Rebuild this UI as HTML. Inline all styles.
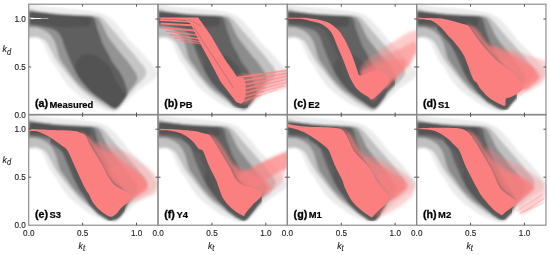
<!DOCTYPE html><html><head><meta charset="utf-8"><style>html,body{margin:0;padding:0;background:#fff;}svg{display:block}text{font-family:"Liberation Sans",Arial,sans-serif}</style></head><body><svg width="550" height="255" viewBox="0 0 550 255"><defs><filter id="bl" x="-5%" y="-5%" width="110%" height="110%"><feGaussianBlur stdDeviation="1.2"/></filter><filter id="bst" x="-5%" y="-5%" width="110%" height="110%"><feGaussianBlur stdDeviation="0.8"/></filter><filter id="bs" x="-5%" y="-5%" width="110%" height="110%"><feGaussianBlur stdDeviation="1.6"/></filter><filter id="bp" x="-5%" y="-5%" width="110%" height="110%"><feGaussianBlur stdDeviation="0.55"/></filter><clipPath id="c0"><rect x="28.70" y="4.20" width="129.30" height="110.80"/></clipPath><clipPath id="c1"><rect x="158.00" y="4.20" width="129.30" height="110.80"/></clipPath><clipPath id="c2"><rect x="287.35" y="4.20" width="129.30" height="110.80"/></clipPath><clipPath id="c3"><rect x="416.65" y="4.20" width="129.30" height="110.80"/></clipPath><clipPath id="c4"><rect x="28.70" y="114.40" width="129.30" height="110.80"/></clipPath><clipPath id="c5"><rect x="158.00" y="114.40" width="129.30" height="110.80"/></clipPath><clipPath id="c6"><rect x="287.35" y="114.40" width="129.30" height="110.80"/></clipPath><clipPath id="c7"><rect x="416.65" y="114.40" width="129.30" height="110.80"/></clipPath></defs><g clip-path="url(#c0)"><g transform="translate(28.30 4.00)"><g filter="url(#bl)"><path fill="#ededed" d="M-2.0 2.0C1.7 -3.0 12.2 2.5 20.0 3.0C27.8 3.5 38.0 4.3 45.0 5.0C52.0 5.7 57.8 6.4 62.0 7.0C66.2 7.6 67.5 7.8 70.0 8.5C72.5 9.2 74.8 9.9 77.0 11.0C79.2 12.1 81.0 13.3 83.0 15.0C85.0 16.7 87.0 18.8 89.0 21.0C91.0 23.2 93.0 25.5 95.0 28.0C97.0 30.5 98.8 33.5 101.0 36.0C103.2 38.5 105.8 40.8 108.0 43.0C110.2 45.2 112.0 46.8 114.0 49.0C116.0 51.2 118.2 53.8 120.0 56.0C121.8 58.2 123.7 60.3 125.0 62.0C126.3 63.7 127.2 64.7 128.0 66.0C128.8 67.3 130.0 68.3 129.5 70.0C129.0 71.7 127.2 74.0 125.0 76.0C122.8 78.0 118.8 80.0 116.0 82.0C113.2 84.0 110.7 85.7 108.0 88.0C105.3 90.3 102.5 93.5 100.0 96.0C97.5 98.5 94.8 101.2 93.0 103.0C91.2 104.8 91.2 106.3 89.0 107.0C86.8 107.7 84.0 108.0 80.0 107.0C76.0 106.0 69.7 103.5 65.0 101.0C60.3 98.5 55.8 94.8 52.0 92.0C48.2 89.2 45.0 87.0 42.0 84.0C39.0 81.0 36.3 77.3 34.0 74.0C31.7 70.7 30.0 67.1 28.0 64.0C26.0 60.9 23.8 58.8 22.0 55.6C20.2 52.4 18.5 48.1 17.0 45.0C15.5 41.9 14.8 38.8 13.0 37.0C11.2 35.2 8.5 34.7 6.0 34.0C3.5 33.3 -0.7 38.3 -2.0 33.0C-3.3 27.7 -5.7 7.0 -2.0 2.0Z"/><path fill="#c5c5c5" d="M-2.0 6.5C0.0 2.6 6.0 6.8 10.0 7.3C14.0 7.8 17.7 8.8 22.0 9.2C26.3 9.6 31.2 9.7 36.0 10.0C40.8 10.3 47.3 10.6 51.0 10.8C54.7 11.0 55.5 11.1 58.0 11.2C60.5 11.3 63.8 11.4 66.0 11.6C68.2 11.8 69.3 11.8 71.0 12.5C72.7 13.2 74.2 14.2 76.0 16.0C77.8 17.8 80.0 20.7 82.0 23.0C84.0 25.3 85.8 27.5 88.0 30.0C90.2 32.5 92.7 35.3 95.0 38.0C97.3 40.7 99.8 43.5 102.0 46.0C104.2 48.5 106.5 51.2 108.0 53.0C109.5 54.8 109.7 55.3 111.0 57.0C112.3 58.7 114.8 61.2 116.0 63.0C117.2 64.8 117.8 66.5 118.0 68.0C118.2 69.5 117.8 70.5 117.0 72.0C116.2 73.5 114.5 75.3 113.0 77.0C111.5 78.7 109.8 80.0 108.0 82.0C106.2 84.0 104.0 86.7 102.0 89.0C100.0 91.3 97.8 93.8 96.0 96.0C94.2 98.2 92.3 100.4 91.0 102.0C89.7 103.6 89.2 104.8 88.0 105.5C86.8 106.2 86.7 106.9 84.0 106.0C81.3 105.1 75.7 102.2 72.0 100.0C68.3 97.8 65.3 95.5 62.0 93.0C58.7 90.5 55.2 88.0 52.0 85.0C48.8 82.0 45.8 78.3 43.0 75.0C40.2 71.7 37.5 68.2 35.0 65.0C32.5 61.8 30.2 59.3 28.0 56.0C25.8 52.7 23.8 48.2 22.0 45.0C20.2 41.8 19.2 39.0 17.0 37.0C14.8 35.0 12.2 34.0 9.0 33.0C5.8 32.0 -0.2 35.4 -2.0 31.0C-3.8 26.6 -4.0 10.4 -2.0 6.5Z"/><path fill="#939393" d="M-2.0 8.0C0.0 5.8 6.0 8.2 10.0 8.6C14.0 9.0 17.7 10.1 22.0 10.5C26.3 10.9 31.2 10.9 36.0 11.2C40.8 11.4 47.0 11.8 51.0 12.0C55.0 12.2 57.2 12.2 60.0 12.4C62.8 12.6 66.0 12.2 68.0 13.0C70.0 13.8 70.7 15.0 72.0 17.0C73.3 19.0 74.7 22.3 76.0 25.0C77.3 27.7 78.3 30.3 80.0 33.0C81.7 35.7 83.8 38.2 86.0 41.0C88.2 43.8 90.8 47.3 93.0 50.0C95.2 52.7 97.2 54.7 99.0 57.0C100.8 59.3 102.5 61.8 104.0 64.0C105.5 66.2 107.2 68.2 108.0 70.0C108.8 71.8 109.2 73.4 109.0 75.0C108.8 76.6 108.3 77.4 107.0 79.5C105.7 81.6 102.6 85.3 101.0 87.4C99.4 89.5 98.7 90.5 97.2 92.3C95.7 94.1 93.5 96.3 92.0 98.0C90.5 99.7 89.2 101.4 88.4 102.5C87.6 103.6 89.4 105.2 87.0 104.5C84.6 103.8 77.7 100.1 74.0 98.0C70.3 95.9 68.0 94.1 65.0 92.0C62.0 89.9 59.3 88.5 56.0 85.5C52.7 82.5 48.0 77.6 45.0 74.0C42.0 70.4 40.2 67.1 38.0 64.0C35.8 60.9 33.5 58.6 32.0 55.6C30.5 52.6 30.0 49.1 29.0 46.0C28.0 42.9 27.5 39.8 26.0 37.0C24.5 34.2 22.7 31.2 20.0 29.0C17.3 26.8 13.7 25.2 10.0 24.0C6.3 22.8 0.0 24.7 -2.0 22.0C-4.0 19.3 -4.0 10.2 -2.0 8.0Z"/><path fill="#5f5f5f" d="M1.0 9.0C1.2 7.1 0.5 7.7 2.0 7.5C3.5 7.3 5.3 7.4 10.0 7.8C14.7 8.2 23.3 9.4 30.0 10.0C36.7 10.6 44.7 10.9 50.0 11.2C55.3 11.5 59.5 11.5 62.0 11.8C64.5 12.1 64.2 12.1 65.0 13.0C65.8 13.9 66.3 15.0 67.0 17.0C67.7 19.0 68.2 22.3 69.0 25.0C69.8 27.7 71.0 30.3 72.0 33.0C73.0 35.7 73.7 38.2 75.0 41.0C76.3 43.8 78.5 47.2 80.0 50.0C81.5 52.8 82.3 55.3 84.0 58.0C85.7 60.7 88.2 63.2 90.0 66.0C91.8 68.8 93.6 71.8 95.0 75.0C96.4 78.2 97.8 82.3 98.5 85.0C99.2 87.7 99.4 89.2 99.0 91.0C98.6 92.8 97.5 93.9 96.0 96.0C94.5 98.1 92.0 102.2 90.0 103.5C88.0 104.8 86.7 105.2 84.0 104.0C81.3 102.8 76.8 98.6 74.0 96.5C71.2 94.4 69.3 93.3 67.0 91.5C64.7 89.7 62.7 88.3 60.0 85.5C57.3 82.7 53.5 78.2 51.0 74.5C48.5 70.8 46.8 67.3 45.0 63.6C43.2 59.9 41.5 55.6 40.0 52.0C38.5 48.4 37.2 45.2 36.0 42.0C34.8 38.8 34.3 35.5 33.0 33.0C31.7 30.5 30.2 28.5 28.0 27.0C25.8 25.5 23.0 24.8 20.0 24.0C17.0 23.2 13.0 22.5 10.0 22.0C7.0 21.5 3.5 21.5 2.0 21.0C0.5 20.5 1.2 21.0 1.0 19.0C0.8 17.0 0.8 10.9 1.0 9.0Z"/><path fill="#525252" d="M1.6 10.0C1.7 8.7 2.0 8.7 2.4 8.3C2.8 7.9 2.9 7.8 4.0 7.8C5.1 7.8 6.0 8.1 9.0 8.6C12.0 9.1 17.5 10.4 22.0 10.9C26.5 11.4 31.2 11.4 36.0 11.6C40.8 11.8 47.3 12.2 51.0 12.3C54.7 12.5 56.3 12.2 58.0 12.5C59.7 12.8 60.3 13.1 61.0 14.0C61.7 14.9 62.0 16.8 62.0 18.0C62.0 19.2 62.2 20.8 61.0 21.5C59.8 22.2 57.7 22.2 55.0 22.5C52.3 22.8 48.2 22.8 45.0 23.0C41.8 23.2 38.7 23.6 36.0 23.5C33.3 23.4 31.4 22.9 29.0 22.5C26.6 22.1 24.2 21.5 21.8 21.0C19.4 20.5 17.5 19.9 14.5 19.6C11.5 19.4 6.1 19.7 4.0 19.5C1.9 19.3 2.4 19.1 2.0 18.5C1.6 17.9 1.7 17.4 1.6 16.0C1.5 14.6 1.5 11.3 1.6 10.0Z"/><path fill="#525252" d="M60.0 50.0C62.5 50.0 65.3 50.7 68.0 52.0C70.7 53.3 73.7 56.0 76.0 58.0C78.3 60.0 80.3 61.3 82.0 64.0C83.7 66.7 84.2 70.5 86.0 74.0C87.8 77.5 91.2 82.2 93.0 85.0C94.8 87.8 96.5 89.2 97.0 91.0C97.5 92.8 97.2 94.0 96.0 96.0C94.8 98.0 91.2 101.7 90.0 103.0C88.8 104.3 89.5 103.7 88.5 103.8C87.5 103.9 86.4 104.8 84.0 103.5C81.6 102.2 76.7 98.1 74.0 96.0C71.3 93.9 70.1 92.8 68.0 91.0C65.9 89.2 64.2 88.2 61.5 85.5C58.8 82.8 54.4 77.9 52.0 74.5C49.6 71.1 47.7 67.8 47.0 65.0C46.3 62.2 47.0 60.2 48.0 58.0C49.0 55.8 51.0 53.3 53.0 52.0C55.0 50.7 57.5 50.0 60.0 50.0Z"/></g><g filter="url(#bp)"></g><path fill="#fff" d="M0.0 13.7C1.3 13.5 4.5 13.8 8.0 13.9C11.5 14.0 21.0 14.2 21.0 14.4C21.0 14.6 11.5 14.8 8.0 14.9C4.5 15.0 1.3 15.3 0.0 15.1C-1.3 14.9 -1.3 13.9 0.0 13.7Z"/></g></g><g clip-path="url(#c1)"><g transform="translate(157.65 4.00)"><g filter="url(#bl)"><path fill="#ebebeb" d="M-2.0 2.0C1.7 -3.0 12.2 2.5 20.0 3.0C27.8 3.5 38.0 4.3 45.0 5.0C52.0 5.7 57.8 6.4 62.0 7.0C66.2 7.6 67.5 7.8 70.0 8.5C72.5 9.2 74.8 9.9 77.0 11.0C79.2 12.1 81.0 13.3 83.0 15.0C85.0 16.7 87.0 18.8 89.0 21.0C91.0 23.2 93.0 25.5 95.0 28.0C97.0 30.5 98.8 33.5 101.0 36.0C103.2 38.5 105.8 40.8 108.0 43.0C110.2 45.2 112.0 46.8 114.0 49.0C116.0 51.2 118.2 53.8 120.0 56.0C121.8 58.2 123.7 60.3 125.0 62.0C126.3 63.7 127.2 64.7 128.0 66.0C128.8 67.3 130.0 68.3 129.5 70.0C129.0 71.7 127.2 74.0 125.0 76.0C122.8 78.0 118.8 80.0 116.0 82.0C113.2 84.0 110.7 85.7 108.0 88.0C105.3 90.3 102.5 93.5 100.0 96.0C97.5 98.5 94.8 101.2 93.0 103.0C91.2 104.8 91.2 106.3 89.0 107.0C86.8 107.7 84.0 108.0 80.0 107.0C76.0 106.0 69.7 103.5 65.0 101.0C60.3 98.5 55.8 94.8 52.0 92.0C48.2 89.2 45.0 87.0 42.0 84.0C39.0 81.0 36.3 77.3 34.0 74.0C31.7 70.7 30.0 67.1 28.0 64.0C26.0 60.9 23.8 58.8 22.0 55.6C20.2 52.4 18.5 48.1 17.0 45.0C15.5 41.9 14.8 38.8 13.0 37.0C11.2 35.2 8.5 34.7 6.0 34.0C3.5 33.3 -0.7 38.3 -2.0 33.0C-3.3 27.7 -5.7 7.0 -2.0 2.0Z"/><path fill="#c0c0c0" d="M-2.0 6.5C0.0 2.6 6.0 6.8 10.0 7.3C14.0 7.8 17.7 8.8 22.0 9.2C26.3 9.6 31.2 9.7 36.0 10.0C40.8 10.3 47.3 10.6 51.0 10.8C54.7 11.0 55.5 11.1 58.0 11.2C60.5 11.3 63.8 11.4 66.0 11.6C68.2 11.8 69.3 11.8 71.0 12.5C72.7 13.2 74.2 14.2 76.0 16.0C77.8 17.8 80.0 20.7 82.0 23.0C84.0 25.3 85.8 27.5 88.0 30.0C90.2 32.5 92.7 35.3 95.0 38.0C97.3 40.7 99.8 43.5 102.0 46.0C104.2 48.5 106.5 51.2 108.0 53.0C109.5 54.8 109.7 55.3 111.0 57.0C112.3 58.7 114.8 61.2 116.0 63.0C117.2 64.8 117.8 66.5 118.0 68.0C118.2 69.5 117.8 70.5 117.0 72.0C116.2 73.5 114.5 75.3 113.0 77.0C111.5 78.7 109.8 80.0 108.0 82.0C106.2 84.0 104.0 86.7 102.0 89.0C100.0 91.3 97.8 93.8 96.0 96.0C94.2 98.2 92.3 100.4 91.0 102.0C89.7 103.6 89.2 104.8 88.0 105.5C86.8 106.2 86.7 106.9 84.0 106.0C81.3 105.1 75.7 102.2 72.0 100.0C68.3 97.8 65.3 95.5 62.0 93.0C58.7 90.5 55.2 88.0 52.0 85.0C48.8 82.0 45.8 78.3 43.0 75.0C40.2 71.7 37.5 68.2 35.0 65.0C32.5 61.8 30.2 59.3 28.0 56.0C25.8 52.7 23.8 48.2 22.0 45.0C20.2 41.8 19.2 39.0 17.0 37.0C14.8 35.0 12.2 34.0 9.0 33.0C5.8 32.0 -0.2 35.4 -2.0 31.0C-3.8 26.6 -4.0 10.4 -2.0 6.5Z"/><path fill="#8c8c8c" d="M-2.0 8.0C0.0 5.8 6.0 8.2 10.0 8.6C14.0 9.0 17.7 10.1 22.0 10.5C26.3 10.9 31.2 10.9 36.0 11.2C40.8 11.4 47.0 11.8 51.0 12.0C55.0 12.2 57.2 12.2 60.0 12.4C62.8 12.6 66.0 12.2 68.0 13.0C70.0 13.8 70.7 15.0 72.0 17.0C73.3 19.0 74.7 22.3 76.0 25.0C77.3 27.7 78.3 30.3 80.0 33.0C81.7 35.7 83.8 38.2 86.0 41.0C88.2 43.8 90.8 47.3 93.0 50.0C95.2 52.7 97.2 54.7 99.0 57.0C100.8 59.3 102.5 61.8 104.0 64.0C105.5 66.2 107.2 68.2 108.0 70.0C108.8 71.8 109.2 73.4 109.0 75.0C108.8 76.6 108.3 77.4 107.0 79.5C105.7 81.6 102.6 85.3 101.0 87.4C99.4 89.5 98.7 90.5 97.2 92.3C95.7 94.1 93.5 96.3 92.0 98.0C90.5 99.7 89.2 101.4 88.4 102.5C87.6 103.6 89.4 105.2 87.0 104.5C84.6 103.8 77.7 100.1 74.0 98.0C70.3 95.9 68.0 94.1 65.0 92.0C62.0 89.9 59.3 88.5 56.0 85.5C52.7 82.5 48.0 77.6 45.0 74.0C42.0 70.4 40.2 67.1 38.0 64.0C35.8 60.9 33.5 58.6 32.0 55.6C30.5 52.6 30.0 49.1 29.0 46.0C28.0 42.9 27.5 39.8 26.0 37.0C24.5 34.2 22.7 31.2 20.0 29.0C17.3 26.8 13.7 25.2 10.0 24.0C6.3 22.8 0.0 24.7 -2.0 22.0C-4.0 19.3 -4.0 10.2 -2.0 8.0Z"/><path fill="#626262" d="M1.0 9.0C1.2 7.1 0.5 7.7 2.0 7.5C3.5 7.3 5.3 7.4 10.0 7.8C14.7 8.2 23.3 9.4 30.0 10.0C36.7 10.6 44.7 10.9 50.0 11.2C55.3 11.5 59.5 11.5 62.0 11.8C64.5 12.1 64.2 12.1 65.0 13.0C65.8 13.9 66.3 15.0 67.0 17.0C67.7 19.0 68.2 22.3 69.0 25.0C69.8 27.7 71.0 30.3 72.0 33.0C73.0 35.7 73.7 38.2 75.0 41.0C76.3 43.8 78.5 47.2 80.0 50.0C81.5 52.8 82.3 55.3 84.0 58.0C85.7 60.7 88.2 63.2 90.0 66.0C91.8 68.8 93.6 71.8 95.0 75.0C96.4 78.2 97.8 82.3 98.5 85.0C99.2 87.7 99.4 89.2 99.0 91.0C98.6 92.8 97.5 93.9 96.0 96.0C94.5 98.1 92.0 102.2 90.0 103.5C88.0 104.8 86.7 105.2 84.0 104.0C81.3 102.8 76.8 98.6 74.0 96.5C71.2 94.4 69.3 93.3 67.0 91.5C64.7 89.7 62.7 88.3 60.0 85.5C57.3 82.7 53.5 78.2 51.0 74.5C48.5 70.8 46.8 67.3 45.0 63.6C43.2 59.9 41.5 55.6 40.0 52.0C38.5 48.4 37.2 45.2 36.0 42.0C34.8 38.8 34.3 35.5 33.0 33.0C31.7 30.5 30.2 28.5 28.0 27.0C25.8 25.5 23.0 24.8 20.0 24.0C17.0 23.2 13.0 22.5 10.0 22.0C7.0 21.5 3.5 21.5 2.0 21.0C0.5 20.5 1.2 21.0 1.0 19.0C0.8 17.0 0.8 10.9 1.0 9.0Z"/><path fill="#525252" d="M1.6 10.0C1.7 8.7 2.0 8.7 2.4 8.3C2.8 7.9 2.9 7.8 4.0 7.8C5.1 7.8 6.0 8.1 9.0 8.6C12.0 9.1 17.5 10.4 22.0 10.9C26.5 11.4 31.2 11.4 36.0 11.6C40.8 11.8 47.3 12.2 51.0 12.3C54.7 12.5 56.3 12.2 58.0 12.5C59.7 12.8 60.3 13.1 61.0 14.0C61.7 14.9 62.0 16.8 62.0 18.0C62.0 19.2 62.2 20.8 61.0 21.5C59.8 22.2 57.7 22.2 55.0 22.5C52.3 22.8 48.2 22.8 45.0 23.0C41.8 23.2 38.7 23.6 36.0 23.5C33.3 23.4 31.4 22.9 29.0 22.5C26.6 22.1 24.2 21.5 21.8 21.0C19.4 20.5 17.5 19.9 14.5 19.6C11.5 19.4 6.1 19.7 4.0 19.5C1.9 19.3 2.4 19.1 2.0 18.5C1.6 17.9 1.7 17.4 1.6 16.0C1.5 14.6 1.5 11.3 1.6 10.0Z"/><path fill="#565656" d="M60.0 50.0C62.5 50.0 65.3 50.7 68.0 52.0C70.7 53.3 73.7 56.0 76.0 58.0C78.3 60.0 80.3 61.3 82.0 64.0C83.7 66.7 84.2 70.5 86.0 74.0C87.8 77.5 91.2 82.2 93.0 85.0C94.8 87.8 96.5 89.2 97.0 91.0C97.5 92.8 97.2 94.0 96.0 96.0C94.8 98.0 91.2 101.7 90.0 103.0C88.8 104.3 89.5 103.7 88.5 103.8C87.5 103.9 86.4 104.8 84.0 103.5C81.6 102.2 76.7 98.1 74.0 96.0C71.3 93.9 70.1 92.8 68.0 91.0C65.9 89.2 64.2 88.2 61.5 85.5C58.8 82.8 54.4 77.9 52.0 74.5C49.6 71.1 47.7 67.8 47.0 65.0C46.3 62.2 47.0 60.2 48.0 58.0C49.0 55.8 51.0 53.3 53.0 52.0C55.0 50.7 57.5 50.0 60.0 50.0Z"/></g><g filter="url(#bst)"><path fill="none" stroke="#595959" stroke-width="9.0" stroke-linejoin="round" stroke-linecap="round" d="M41.0 39.0 51.7 56.3 57.4 67.0 62.8 77.6 78.6 98.0 84.0 100.5 88.0 99.0"/></g><g filter="url(#bs)"><path fill="rgb(252, 127, 127)" fill-opacity="0.45" d="M79.3 72.8C82.9 67.8 99.0 71.0 107.4 69.8C115.8 68.6 125.6 66.2 129.5 65.5C133.4 64.8 130.8 62.8 131.0 65.5C131.2 68.2 134.9 78.2 131.0 82.0C127.1 85.8 115.0 85.6 107.4 88.5C99.8 91.4 90.3 102.1 85.6 99.5C80.9 96.9 75.7 77.8 79.3 72.8Z"/></g><g filter="url(#bp)"><path fill="rgb(252, 127, 127)" d="M-2.0 13.5 40.5 13.5 53.9 32.6 61.5 46.0 68.3 57.0 75.2 66.6 79.3 72.8 86.0 74.0 88.0 80.0 88.0 92.0 85.6 98.5 83.0 99.8 78.6 98.0 62.8 77.6 57.4 67.0 51.7 56.3 45.0 44.0 38.0 30.0 33.0 20.0 28.0 16.0 -2.0 15.2Z"/><path stroke="rgb(252, 127, 127)" stroke-opacity="1.00" stroke-width="1.8" d="M2.0 16.2L36.0 17.8"/><path stroke="rgb(252, 127, 127)" stroke-opacity="0.95" stroke-width="1.8" d="M3.0 19.5L38.0 21.5"/><path stroke="rgb(252, 127, 127)" stroke-opacity="0.90" stroke-width="1.8" d="M4.0 23.5L41.0 27.0"/><path stroke="rgb(252, 127, 127)" stroke-opacity="0.85" stroke-width="1.7" d="M8.0 27.0L43.0 31.5"/><path stroke="rgb(252, 127, 127)" stroke-opacity="0.80" stroke-width="1.7" d="M12.0 30.5L45.0 35.5"/><path stroke="rgb(252, 127, 127)" stroke-opacity="0.70" stroke-width="1.6" d="M17.0 33.5L47.0 38.5"/><path stroke="rgb(252, 127, 127)" stroke-opacity="0.60" stroke-width="1.5" d="M22.0 36.5L48.0 40.5"/><path stroke="rgb(252, 127, 127)" stroke-opacity="0.95" stroke-width="1.7" d="M80.0 73.5L104.8 69.9"/><path stroke="rgb(252, 127, 127)" stroke-opacity="0.60" stroke-width="1.5" d="M104.8 69.9L129.5 66.3"/><path stroke="rgb(252, 127, 127)" stroke-opacity="0.91" stroke-width="1.7" d="M84.0 77.0L106.8 73.2"/><path stroke="rgb(252, 127, 127)" stroke-opacity="0.56" stroke-width="1.5" d="M106.8 73.2L129.5 69.3"/><path stroke="rgb(252, 127, 127)" stroke-opacity="0.87" stroke-width="1.7" d="M86.0 81.0L107.8 76.7"/><path stroke="rgb(252, 127, 127)" stroke-opacity="0.52" stroke-width="1.5" d="M107.8 76.7L129.5 72.3"/><path stroke="rgb(252, 127, 127)" stroke-opacity="0.83" stroke-width="1.7" d="M86.0 85.0L107.8 80.2"/><path stroke="rgb(252, 127, 127)" stroke-opacity="0.48" stroke-width="1.5" d="M107.8 80.2L129.5 75.3"/><path stroke="rgb(252, 127, 127)" stroke-opacity="0.79" stroke-width="1.7" d="M86.0 89.0L107.8 83.7"/><path stroke="rgb(252, 127, 127)" stroke-opacity="0.44" stroke-width="1.5" d="M107.8 83.7L129.5 78.3"/><path stroke="rgb(252, 127, 127)" stroke-opacity="0.75" stroke-width="1.7" d="M86.0 93.0L106.5 87.2"/><path stroke="rgb(252, 127, 127)" stroke-opacity="0.40" stroke-width="1.5" d="M106.5 87.2L127.0 81.5"/><path stroke="rgb(252, 127, 127)" stroke-opacity="0.71" stroke-width="1.7" d="M86.0 97.0L103.0 91.2"/><path stroke="rgb(252, 127, 127)" stroke-opacity="0.36" stroke-width="1.5" d="M103.0 91.2L120.0 85.5"/><path stroke="#4b4b4b" stroke-opacity="0.40" stroke-width="0.8" d="M36.0 23.0L76.0 84.0"/><path stroke="#4b4b4b" stroke-opacity="0.30" stroke-width="0.7" d="M30.0 15.5L44.0 22.0"/></g></g></g><g clip-path="url(#c2)"><g transform="translate(287.00 4.00)"><g filter="url(#bl)"><path fill="#ebebeb" d="M-2.0 2.0C1.7 -3.0 12.2 2.5 20.0 3.0C27.8 3.5 38.0 4.3 45.0 5.0C52.0 5.7 57.8 6.4 62.0 7.0C66.2 7.6 67.5 7.8 70.0 8.5C72.5 9.2 74.8 9.9 77.0 11.0C79.2 12.1 81.0 13.3 83.0 15.0C85.0 16.7 87.0 18.8 89.0 21.0C91.0 23.2 93.0 25.5 95.0 28.0C97.0 30.5 98.8 33.5 101.0 36.0C103.2 38.5 105.8 40.8 108.0 43.0C110.2 45.2 112.0 46.8 114.0 49.0C116.0 51.2 118.2 53.8 120.0 56.0C121.8 58.2 123.7 60.3 125.0 62.0C126.3 63.7 127.2 64.7 128.0 66.0C128.8 67.3 130.0 68.3 129.5 70.0C129.0 71.7 127.2 74.0 125.0 76.0C122.8 78.0 118.8 80.0 116.0 82.0C113.2 84.0 110.7 85.7 108.0 88.0C105.3 90.3 102.5 93.5 100.0 96.0C97.5 98.5 94.8 101.2 93.0 103.0C91.2 104.8 91.2 106.3 89.0 107.0C86.8 107.7 84.0 108.0 80.0 107.0C76.0 106.0 69.7 103.5 65.0 101.0C60.3 98.5 55.8 94.8 52.0 92.0C48.2 89.2 45.0 87.0 42.0 84.0C39.0 81.0 36.3 77.3 34.0 74.0C31.7 70.7 30.0 67.1 28.0 64.0C26.0 60.9 23.8 58.8 22.0 55.6C20.2 52.4 18.5 48.1 17.0 45.0C15.5 41.9 14.8 38.8 13.0 37.0C11.2 35.2 8.5 34.7 6.0 34.0C3.5 33.3 -0.7 38.3 -2.0 33.0C-3.3 27.7 -5.7 7.0 -2.0 2.0Z"/><path fill="#c0c0c0" d="M-2.0 6.5C0.0 2.6 6.0 6.8 10.0 7.3C14.0 7.8 17.7 8.8 22.0 9.2C26.3 9.6 31.2 9.7 36.0 10.0C40.8 10.3 47.3 10.6 51.0 10.8C54.7 11.0 55.5 11.1 58.0 11.2C60.5 11.3 63.8 11.4 66.0 11.6C68.2 11.8 69.3 11.8 71.0 12.5C72.7 13.2 74.2 14.2 76.0 16.0C77.8 17.8 80.0 20.7 82.0 23.0C84.0 25.3 85.8 27.5 88.0 30.0C90.2 32.5 92.7 35.3 95.0 38.0C97.3 40.7 99.8 43.5 102.0 46.0C104.2 48.5 106.5 51.2 108.0 53.0C109.5 54.8 109.7 55.3 111.0 57.0C112.3 58.7 114.8 61.2 116.0 63.0C117.2 64.8 117.8 66.5 118.0 68.0C118.2 69.5 117.8 70.5 117.0 72.0C116.2 73.5 114.5 75.3 113.0 77.0C111.5 78.7 109.8 80.0 108.0 82.0C106.2 84.0 104.0 86.7 102.0 89.0C100.0 91.3 97.8 93.8 96.0 96.0C94.2 98.2 92.3 100.4 91.0 102.0C89.7 103.6 89.2 104.8 88.0 105.5C86.8 106.2 86.7 106.9 84.0 106.0C81.3 105.1 75.7 102.2 72.0 100.0C68.3 97.8 65.3 95.5 62.0 93.0C58.7 90.5 55.2 88.0 52.0 85.0C48.8 82.0 45.8 78.3 43.0 75.0C40.2 71.7 37.5 68.2 35.0 65.0C32.5 61.8 30.2 59.3 28.0 56.0C25.8 52.7 23.8 48.2 22.0 45.0C20.2 41.8 19.2 39.0 17.0 37.0C14.8 35.0 12.2 34.0 9.0 33.0C5.8 32.0 -0.2 35.4 -2.0 31.0C-3.8 26.6 -4.0 10.4 -2.0 6.5Z"/><path fill="#8c8c8c" d="M-2.0 8.0C0.0 5.8 6.0 8.2 10.0 8.6C14.0 9.0 17.7 10.1 22.0 10.5C26.3 10.9 31.2 10.9 36.0 11.2C40.8 11.4 47.0 11.8 51.0 12.0C55.0 12.2 57.2 12.2 60.0 12.4C62.8 12.6 66.0 12.2 68.0 13.0C70.0 13.8 70.7 15.0 72.0 17.0C73.3 19.0 74.7 22.3 76.0 25.0C77.3 27.7 78.3 30.3 80.0 33.0C81.7 35.7 83.8 38.2 86.0 41.0C88.2 43.8 90.8 47.3 93.0 50.0C95.2 52.7 97.2 54.7 99.0 57.0C100.8 59.3 102.5 61.8 104.0 64.0C105.5 66.2 107.2 68.2 108.0 70.0C108.8 71.8 109.2 73.4 109.0 75.0C108.8 76.6 108.3 77.4 107.0 79.5C105.7 81.6 102.6 85.3 101.0 87.4C99.4 89.5 98.7 90.5 97.2 92.3C95.7 94.1 93.5 96.3 92.0 98.0C90.5 99.7 89.2 101.4 88.4 102.5C87.6 103.6 89.4 105.2 87.0 104.5C84.6 103.8 77.7 100.1 74.0 98.0C70.3 95.9 68.0 94.1 65.0 92.0C62.0 89.9 59.3 88.5 56.0 85.5C52.7 82.5 48.0 77.6 45.0 74.0C42.0 70.4 40.2 67.1 38.0 64.0C35.8 60.9 33.5 58.6 32.0 55.6C30.5 52.6 30.0 49.1 29.0 46.0C28.0 42.9 27.5 39.8 26.0 37.0C24.5 34.2 22.7 31.2 20.0 29.0C17.3 26.8 13.7 25.2 10.0 24.0C6.3 22.8 0.0 24.7 -2.0 22.0C-4.0 19.3 -4.0 10.2 -2.0 8.0Z"/><path fill="#626262" d="M1.0 9.0C1.2 7.1 0.5 7.7 2.0 7.5C3.5 7.3 5.3 7.4 10.0 7.8C14.7 8.2 23.3 9.4 30.0 10.0C36.7 10.6 44.7 10.9 50.0 11.2C55.3 11.5 59.5 11.5 62.0 11.8C64.5 12.1 64.2 12.1 65.0 13.0C65.8 13.9 66.3 15.0 67.0 17.0C67.7 19.0 68.2 22.3 69.0 25.0C69.8 27.7 71.0 30.3 72.0 33.0C73.0 35.7 73.7 38.2 75.0 41.0C76.3 43.8 78.5 47.2 80.0 50.0C81.5 52.8 82.3 55.3 84.0 58.0C85.7 60.7 88.2 63.2 90.0 66.0C91.8 68.8 93.6 71.8 95.0 75.0C96.4 78.2 97.8 82.3 98.5 85.0C99.2 87.7 99.4 89.2 99.0 91.0C98.6 92.8 97.5 93.9 96.0 96.0C94.5 98.1 92.0 102.2 90.0 103.5C88.0 104.8 86.7 105.2 84.0 104.0C81.3 102.8 76.8 98.6 74.0 96.5C71.2 94.4 69.3 93.3 67.0 91.5C64.7 89.7 62.7 88.3 60.0 85.5C57.3 82.7 53.5 78.2 51.0 74.5C48.5 70.8 46.8 67.3 45.0 63.6C43.2 59.9 41.5 55.6 40.0 52.0C38.5 48.4 37.2 45.2 36.0 42.0C34.8 38.8 34.3 35.5 33.0 33.0C31.7 30.5 30.2 28.5 28.0 27.0C25.8 25.5 23.0 24.8 20.0 24.0C17.0 23.2 13.0 22.5 10.0 22.0C7.0 21.5 3.5 21.5 2.0 21.0C0.5 20.5 1.2 21.0 1.0 19.0C0.8 17.0 0.8 10.9 1.0 9.0Z"/><path fill="#525252" d="M1.6 10.0C1.7 8.7 2.0 8.7 2.4 8.3C2.8 7.9 2.9 7.8 4.0 7.8C5.1 7.8 6.0 8.1 9.0 8.6C12.0 9.1 17.5 10.4 22.0 10.9C26.5 11.4 31.2 11.4 36.0 11.6C40.8 11.8 47.3 12.2 51.0 12.3C54.7 12.5 56.3 12.2 58.0 12.5C59.7 12.8 60.3 13.1 61.0 14.0C61.7 14.9 62.0 16.8 62.0 18.0C62.0 19.2 62.2 20.8 61.0 21.5C59.8 22.2 57.7 22.2 55.0 22.5C52.3 22.8 48.2 22.8 45.0 23.0C41.8 23.2 38.7 23.6 36.0 23.5C33.3 23.4 31.4 22.9 29.0 22.5C26.6 22.1 24.2 21.5 21.8 21.0C19.4 20.5 17.5 19.9 14.5 19.6C11.5 19.4 6.1 19.7 4.0 19.5C1.9 19.3 2.4 19.1 2.0 18.5C1.6 17.9 1.7 17.4 1.6 16.0C1.5 14.6 1.5 11.3 1.6 10.0Z"/><path fill="#565656" d="M60.0 50.0C62.5 50.0 65.3 50.7 68.0 52.0C70.7 53.3 73.7 56.0 76.0 58.0C78.3 60.0 80.3 61.3 82.0 64.0C83.7 66.7 84.2 70.5 86.0 74.0C87.8 77.5 91.2 82.2 93.0 85.0C94.8 87.8 96.5 89.2 97.0 91.0C97.5 92.8 97.2 94.0 96.0 96.0C94.8 98.0 91.2 101.7 90.0 103.0C88.8 104.3 89.5 103.7 88.5 103.8C87.5 103.9 86.4 104.8 84.0 103.5C81.6 102.2 76.7 98.1 74.0 96.0C71.3 93.9 70.1 92.8 68.0 91.0C65.9 89.2 64.2 88.2 61.5 85.5C58.8 82.8 54.4 77.9 52.0 74.5C49.6 71.1 47.7 67.8 47.0 65.0C46.3 62.2 47.0 60.2 48.0 58.0C49.0 55.8 51.0 53.3 53.0 52.0C55.0 50.7 57.5 50.0 60.0 50.0Z"/></g><g filter="url(#bst)"><path fill="none" stroke="#595959" stroke-width="9.0" stroke-linejoin="round" stroke-linecap="round" d="M36.0 20.0 42.7 26.0 46.0 33.0 49.8 41.0 53.0 48.5 56.2 56.0 60.0 66.0 64.2 75.9 70.7 85.8 81.5 93.2 85.5 95.5 90.0 92.0 97.2 84.3 104.0 78.0"/></g><g filter="url(#bs)"><path fill="rgb(252, 127, 127)" fill-opacity="0.40" d="M73.0 66.0C73.8 58.2 84.7 53.3 90.6 48.4C96.5 43.5 103.4 39.8 108.3 36.6C113.2 33.4 116.8 30.8 120.0 29.2C123.2 27.6 125.6 27.4 127.4 27.0C129.2 26.6 130.4 22.7 131.0 26.5C131.6 30.3 131.6 45.9 131.0 50.0C130.4 54.1 128.7 49.6 127.4 51.3C126.1 53.0 126.2 56.1 123.0 60.0C119.8 63.9 113.7 69.6 108.3 74.8C102.9 80.0 94.4 87.6 90.6 91.0C86.8 94.4 88.4 99.3 85.5 95.1C82.6 90.9 72.2 73.8 73.0 66.0Z"/><path fill="rgb(252, 127, 127)" fill-opacity="0.45" d="M75.0 68.0C76.1 61.5 86.5 59.5 92.0 56.0C97.5 52.5 103.3 49.5 108.0 47.0C112.7 44.5 116.7 42.5 120.0 41.0C123.3 39.5 126.3 37.3 128.0 38.0C129.7 38.7 130.1 42.8 130.0 45.0C129.9 47.2 128.6 48.8 127.4 51.3C126.2 53.8 126.2 56.1 123.0 60.0C119.8 63.9 113.7 69.6 108.3 74.8C102.9 80.0 94.4 87.6 90.6 91.0C86.8 94.4 88.1 98.9 85.5 95.1C82.9 91.3 73.9 74.5 75.0 68.0Z"/><path fill="rgb(252, 127, 127)" fill-opacity="0.55" d="M73.0 70.0C71.0 66.5 81.0 65.0 85.0 63.0C89.0 61.0 93.2 59.3 97.0 58.0C100.8 56.7 104.8 55.5 108.0 55.0C111.2 54.5 114.2 54.0 116.0 55.0C117.8 56.0 119.5 58.5 119.0 61.0C118.5 63.5 115.3 67.2 113.0 70.0C110.7 72.8 107.7 75.7 105.0 78.0C102.3 80.3 102.3 85.3 97.0 84.0C91.7 82.7 75.0 73.5 73.0 70.0Z"/></g><g filter="url(#bp)"><path fill="rgb(252, 127, 127)" d="M-2.0 13.9C0.8 13.7 10.2 13.7 14.5 13.8C18.8 13.9 21.2 14.2 24.0 14.5C26.8 14.8 28.7 15.1 31.0 15.6C33.3 16.1 36.2 17.1 38.0 17.6C39.8 18.1 40.1 18.0 41.7 18.8C43.3 19.6 45.7 21.2 47.5 22.7C49.3 24.1 51.1 26.0 52.4 27.5C53.7 29.0 54.3 30.1 55.2 31.5C56.1 32.9 57.1 34.4 58.0 36.0C58.9 37.6 59.4 38.9 60.4 41.0C61.4 43.1 62.7 46.0 63.8 48.5C64.9 51.0 65.7 53.1 66.8 56.0C67.9 58.9 69.2 63.4 70.2 66.0C71.2 68.6 71.1 71.1 72.7 71.6C74.3 72.1 77.1 69.9 80.0 69.0C82.9 68.1 87.0 65.8 90.0 66.0C93.0 66.2 95.8 68.5 98.0 70.0C100.2 71.5 103.1 72.6 103.0 75.0C102.9 77.4 100.1 81.0 97.2 84.3C94.3 87.6 88.1 93.6 85.5 95.1C82.9 96.6 84.0 94.8 81.5 93.2C79.0 91.7 73.6 88.7 70.7 85.8C67.8 82.9 66.0 79.2 64.2 75.9C62.4 72.6 61.3 69.3 60.0 66.0C58.7 62.7 57.4 58.9 56.2 56.0C55.0 53.1 54.1 51.0 53.0 48.5C51.9 46.0 50.9 43.6 49.8 41.0C48.7 38.4 47.6 35.2 46.6 33.0C45.6 30.8 44.9 29.3 43.6 27.6C42.3 25.9 40.5 24.1 38.7 22.7C36.9 21.3 35.1 20.2 32.8 19.3C30.5 18.4 28.1 18.0 25.0 17.3C21.9 16.6 19.0 15.3 14.5 14.9C10.0 14.5 0.8 15.1 -2.0 14.9C-4.8 14.7 -4.8 14.1 -2.0 13.9Z"/></g></g></g><g clip-path="url(#c3)"><g transform="translate(416.35 4.00)"><g filter="url(#bl)"><path fill="#ebebeb" d="M-2.0 2.0C1.7 -3.0 12.2 2.5 20.0 3.0C27.8 3.5 38.0 4.3 45.0 5.0C52.0 5.7 57.8 6.4 62.0 7.0C66.2 7.6 67.5 7.8 70.0 8.5C72.5 9.2 74.8 9.9 77.0 11.0C79.2 12.1 81.0 13.3 83.0 15.0C85.0 16.7 87.0 18.8 89.0 21.0C91.0 23.2 93.0 25.5 95.0 28.0C97.0 30.5 98.8 33.5 101.0 36.0C103.2 38.5 105.8 40.8 108.0 43.0C110.2 45.2 112.0 46.8 114.0 49.0C116.0 51.2 118.2 53.8 120.0 56.0C121.8 58.2 123.7 60.3 125.0 62.0C126.3 63.7 127.2 64.7 128.0 66.0C128.8 67.3 130.0 68.3 129.5 70.0C129.0 71.7 127.2 74.0 125.0 76.0C122.8 78.0 118.8 80.0 116.0 82.0C113.2 84.0 110.7 85.7 108.0 88.0C105.3 90.3 102.5 93.5 100.0 96.0C97.5 98.5 94.8 101.2 93.0 103.0C91.2 104.8 91.2 106.3 89.0 107.0C86.8 107.7 84.0 108.0 80.0 107.0C76.0 106.0 69.7 103.5 65.0 101.0C60.3 98.5 55.8 94.8 52.0 92.0C48.2 89.2 45.0 87.0 42.0 84.0C39.0 81.0 36.3 77.3 34.0 74.0C31.7 70.7 30.0 67.1 28.0 64.0C26.0 60.9 23.8 58.8 22.0 55.6C20.2 52.4 18.5 48.1 17.0 45.0C15.5 41.9 14.8 38.8 13.0 37.0C11.2 35.2 8.5 34.7 6.0 34.0C3.5 33.3 -0.7 38.3 -2.0 33.0C-3.3 27.7 -5.7 7.0 -2.0 2.0Z"/><path fill="#c0c0c0" d="M-2.0 6.5C0.0 2.6 6.0 6.8 10.0 7.3C14.0 7.8 17.7 8.8 22.0 9.2C26.3 9.6 31.2 9.7 36.0 10.0C40.8 10.3 47.3 10.6 51.0 10.8C54.7 11.0 55.5 11.1 58.0 11.2C60.5 11.3 63.8 11.4 66.0 11.6C68.2 11.8 69.3 11.8 71.0 12.5C72.7 13.2 74.2 14.2 76.0 16.0C77.8 17.8 80.0 20.7 82.0 23.0C84.0 25.3 85.8 27.5 88.0 30.0C90.2 32.5 92.7 35.3 95.0 38.0C97.3 40.7 99.8 43.5 102.0 46.0C104.2 48.5 106.5 51.2 108.0 53.0C109.5 54.8 109.7 55.3 111.0 57.0C112.3 58.7 114.8 61.2 116.0 63.0C117.2 64.8 117.8 66.5 118.0 68.0C118.2 69.5 117.8 70.5 117.0 72.0C116.2 73.5 114.5 75.3 113.0 77.0C111.5 78.7 109.8 80.0 108.0 82.0C106.2 84.0 104.0 86.7 102.0 89.0C100.0 91.3 97.8 93.8 96.0 96.0C94.2 98.2 92.3 100.4 91.0 102.0C89.7 103.6 89.2 104.8 88.0 105.5C86.8 106.2 86.7 106.9 84.0 106.0C81.3 105.1 75.7 102.2 72.0 100.0C68.3 97.8 65.3 95.5 62.0 93.0C58.7 90.5 55.2 88.0 52.0 85.0C48.8 82.0 45.8 78.3 43.0 75.0C40.2 71.7 37.5 68.2 35.0 65.0C32.5 61.8 30.2 59.3 28.0 56.0C25.8 52.7 23.8 48.2 22.0 45.0C20.2 41.8 19.2 39.0 17.0 37.0C14.8 35.0 12.2 34.0 9.0 33.0C5.8 32.0 -0.2 35.4 -2.0 31.0C-3.8 26.6 -4.0 10.4 -2.0 6.5Z"/><path fill="#8c8c8c" d="M-2.0 8.0C0.0 5.8 6.0 8.2 10.0 8.6C14.0 9.0 17.7 10.1 22.0 10.5C26.3 10.9 31.2 10.9 36.0 11.2C40.8 11.4 47.0 11.8 51.0 12.0C55.0 12.2 57.2 12.2 60.0 12.4C62.8 12.6 66.0 12.2 68.0 13.0C70.0 13.8 70.7 15.0 72.0 17.0C73.3 19.0 74.7 22.3 76.0 25.0C77.3 27.7 78.3 30.3 80.0 33.0C81.7 35.7 83.8 38.2 86.0 41.0C88.2 43.8 90.8 47.3 93.0 50.0C95.2 52.7 97.2 54.7 99.0 57.0C100.8 59.3 102.5 61.8 104.0 64.0C105.5 66.2 107.2 68.2 108.0 70.0C108.8 71.8 109.2 73.4 109.0 75.0C108.8 76.6 108.3 77.4 107.0 79.5C105.7 81.6 102.6 85.3 101.0 87.4C99.4 89.5 98.7 90.5 97.2 92.3C95.7 94.1 93.5 96.3 92.0 98.0C90.5 99.7 89.2 101.4 88.4 102.5C87.6 103.6 89.4 105.2 87.0 104.5C84.6 103.8 77.7 100.1 74.0 98.0C70.3 95.9 68.0 94.1 65.0 92.0C62.0 89.9 59.3 88.5 56.0 85.5C52.7 82.5 48.0 77.6 45.0 74.0C42.0 70.4 40.2 67.1 38.0 64.0C35.8 60.9 33.5 58.6 32.0 55.6C30.5 52.6 30.0 49.1 29.0 46.0C28.0 42.9 27.5 39.8 26.0 37.0C24.5 34.2 22.7 31.2 20.0 29.0C17.3 26.8 13.7 25.2 10.0 24.0C6.3 22.8 0.0 24.7 -2.0 22.0C-4.0 19.3 -4.0 10.2 -2.0 8.0Z"/><path fill="#626262" d="M1.0 9.0C1.2 7.1 0.5 7.7 2.0 7.5C3.5 7.3 5.3 7.4 10.0 7.8C14.7 8.2 23.3 9.4 30.0 10.0C36.7 10.6 44.7 10.9 50.0 11.2C55.3 11.5 59.5 11.5 62.0 11.8C64.5 12.1 64.2 12.1 65.0 13.0C65.8 13.9 66.3 15.0 67.0 17.0C67.7 19.0 68.2 22.3 69.0 25.0C69.8 27.7 71.0 30.3 72.0 33.0C73.0 35.7 73.7 38.2 75.0 41.0C76.3 43.8 78.5 47.2 80.0 50.0C81.5 52.8 82.3 55.3 84.0 58.0C85.7 60.7 88.2 63.2 90.0 66.0C91.8 68.8 93.6 71.8 95.0 75.0C96.4 78.2 97.8 82.3 98.5 85.0C99.2 87.7 99.4 89.2 99.0 91.0C98.6 92.8 97.5 93.9 96.0 96.0C94.5 98.1 92.0 102.2 90.0 103.5C88.0 104.8 86.7 105.2 84.0 104.0C81.3 102.8 76.8 98.6 74.0 96.5C71.2 94.4 69.3 93.3 67.0 91.5C64.7 89.7 62.7 88.3 60.0 85.5C57.3 82.7 53.5 78.2 51.0 74.5C48.5 70.8 46.8 67.3 45.0 63.6C43.2 59.9 41.5 55.6 40.0 52.0C38.5 48.4 37.2 45.2 36.0 42.0C34.8 38.8 34.3 35.5 33.0 33.0C31.7 30.5 30.2 28.5 28.0 27.0C25.8 25.5 23.0 24.8 20.0 24.0C17.0 23.2 13.0 22.5 10.0 22.0C7.0 21.5 3.5 21.5 2.0 21.0C0.5 20.5 1.2 21.0 1.0 19.0C0.8 17.0 0.8 10.9 1.0 9.0Z"/><path fill="#525252" d="M1.6 10.0C1.7 8.7 2.0 8.7 2.4 8.3C2.8 7.9 2.9 7.8 4.0 7.8C5.1 7.8 6.0 8.1 9.0 8.6C12.0 9.1 17.5 10.4 22.0 10.9C26.5 11.4 31.2 11.4 36.0 11.6C40.8 11.8 47.3 12.2 51.0 12.3C54.7 12.5 56.3 12.2 58.0 12.5C59.7 12.8 60.3 13.1 61.0 14.0C61.7 14.9 62.0 16.8 62.0 18.0C62.0 19.2 62.2 20.8 61.0 21.5C59.8 22.2 57.7 22.2 55.0 22.5C52.3 22.8 48.2 22.8 45.0 23.0C41.8 23.2 38.7 23.6 36.0 23.5C33.3 23.4 31.4 22.9 29.0 22.5C26.6 22.1 24.2 21.5 21.8 21.0C19.4 20.5 17.5 19.9 14.5 19.6C11.5 19.4 6.1 19.7 4.0 19.5C1.9 19.3 2.4 19.1 2.0 18.5C1.6 17.9 1.7 17.4 1.6 16.0C1.5 14.6 1.5 11.3 1.6 10.0Z"/><path fill="#565656" d="M60.0 50.0C62.5 50.0 65.3 50.7 68.0 52.0C70.7 53.3 73.7 56.0 76.0 58.0C78.3 60.0 80.3 61.3 82.0 64.0C83.7 66.7 84.2 70.5 86.0 74.0C87.8 77.5 91.2 82.2 93.0 85.0C94.8 87.8 96.5 89.2 97.0 91.0C97.5 92.8 97.2 94.0 96.0 96.0C94.8 98.0 91.2 101.7 90.0 103.0C88.8 104.3 89.5 103.7 88.5 103.8C87.5 103.9 86.4 104.8 84.0 103.5C81.6 102.2 76.7 98.1 74.0 96.0C71.3 93.9 70.1 92.8 68.0 91.0C65.9 89.2 64.2 88.2 61.5 85.5C58.8 82.8 54.4 77.9 52.0 74.5C49.6 71.1 47.7 67.8 47.0 65.0C46.3 62.2 47.0 60.2 48.0 58.0C49.0 55.8 51.0 53.3 53.0 52.0C55.0 50.7 57.5 50.0 60.0 50.0Z"/></g><g filter="url(#bst)"><path fill="none" stroke="#585858" stroke-width="8.5" stroke-linejoin="round" stroke-linecap="round" d="M24.4 23.2 29.0 28.2 33.0 33.0 37.0 37.0 47.5 51.5 56.3 74.0 60.6 79.0 64.7 85.6 73.4 94.3 83.5 100.0 88.6 101.6 92.0 97.0 96.8 92.1"/></g><g filter="url(#bs)"><path fill="rgb(252, 127, 127)" fill-opacity="0.35" d="M74.0 42.0C77.6 41.8 85.8 43.5 92.0 45.0C98.2 46.5 105.7 49.3 111.0 51.0C116.3 52.7 120.8 53.7 124.0 55.0C127.2 56.3 129.0 56.5 130.0 59.0C131.0 61.5 130.7 66.7 130.0 70.0C129.3 73.3 128.3 76.5 126.0 79.0C123.7 81.5 119.3 83.2 116.0 85.0C112.7 86.8 108.7 89.2 106.0 90.0C103.3 90.8 101.5 93.5 100.0 90.0C98.5 86.5 100.1 74.5 96.8 68.8C93.5 63.1 84.3 59.5 79.9 55.7C75.5 52.0 71.5 48.6 70.5 46.3C69.5 44.0 70.4 42.2 74.0 42.0Z"/><path fill="rgb(252, 127, 127)" fill-opacity="0.70" d="M50.0 19.5C50.9 19.8 54.8 21.4 57.0 23.0C59.2 24.6 61.2 26.8 63.0 29.0C64.8 31.2 66.0 33.8 68.0 36.0C70.0 38.2 72.2 40.3 75.0 42.0C77.8 43.7 81.2 44.5 85.0 46.0C88.8 47.5 93.8 49.0 98.0 51.0C102.2 53.0 106.3 55.5 110.0 58.0C113.7 60.5 117.8 63.3 120.0 66.0C122.2 68.7 123.5 71.7 123.0 74.0C122.5 76.3 119.5 78.0 117.0 80.0C114.5 82.0 110.3 86.5 108.0 86.0C105.7 85.5 105.1 80.2 103.2 77.3C101.3 74.4 99.3 71.3 96.8 68.8C94.3 66.3 91.2 64.7 88.4 62.5C85.6 60.3 82.9 58.4 79.9 55.7C76.9 53.0 73.7 49.8 70.5 46.3C67.3 42.8 63.4 37.6 61.0 34.5C58.6 31.4 57.6 29.7 56.0 27.5C54.4 25.3 52.6 22.8 51.6 21.5C50.6 20.2 49.1 19.2 50.0 19.5Z"/><path fill="rgb(252, 127, 127)" fill-opacity="0.45" d="M85.0 55.0C87.0 53.8 95.5 54.8 100.0 56.0C104.5 57.2 108.7 60.0 112.0 62.0C115.3 64.0 118.5 66.0 120.0 68.0C121.5 70.0 121.7 72.2 121.0 74.0C120.3 75.8 118.2 77.2 116.0 79.0C113.8 80.8 110.2 84.8 108.0 85.0C105.8 85.2 105.0 82.5 103.0 80.0C101.0 77.5 98.5 72.8 96.0 70.0C93.5 67.2 89.8 65.5 88.0 63.0C86.2 60.5 83.0 56.2 85.0 55.0Z"/></g><g filter="url(#bp)"><path fill="rgb(252, 127, 127)" d="M-2.0 13.8C0.7 13.6 9.1 13.9 14.2 14.1C19.3 14.3 23.9 14.4 28.7 15.2C33.5 16.0 39.4 17.8 43.2 18.9C47.0 19.9 49.5 20.1 51.6 21.5C53.8 22.9 54.4 25.3 56.0 27.5C57.6 29.7 58.6 31.4 61.0 34.5C63.4 37.6 67.3 42.8 70.5 46.3C73.7 49.8 76.9 53.0 79.9 55.7C82.9 58.4 85.6 60.3 88.4 62.5C91.2 64.7 94.3 66.3 96.8 68.8C99.3 71.3 101.4 74.8 103.2 77.3C105.0 79.8 108.5 81.2 107.4 83.7C106.3 86.2 99.6 90.3 96.8 92.1C94.0 93.9 91.8 93.7 90.5 94.3C89.2 94.9 89.6 94.3 89.3 95.5C89.0 96.7 89.6 100.8 88.6 101.6C87.6 102.3 86.0 101.2 83.5 100.0C81.0 98.8 76.5 96.7 73.4 94.3C70.3 91.9 66.8 88.1 64.7 85.6C62.5 83.0 62.0 80.9 60.6 79.0C59.2 77.1 58.5 78.6 56.3 74.0C54.1 69.4 50.7 57.7 47.5 51.5C44.3 45.3 39.4 40.1 37.0 37.0C34.6 33.9 34.3 34.5 33.0 33.0C31.7 31.5 30.4 29.8 29.0 28.2C27.6 26.6 26.0 24.7 24.4 23.2C22.8 21.7 21.6 20.4 19.6 19.2C17.7 18.0 15.6 16.8 12.6 16.1C9.6 15.4 3.8 15.4 1.4 15.2C-1.0 15.0 -1.4 15.3 -2.0 15.1C-2.6 14.9 -4.7 14.0 -2.0 13.8Z"/></g></g></g><g clip-path="url(#c4)"><g transform="translate(28.30 114.50)"><g filter="url(#bl)"><path fill="#ebebeb" d="M-2.0 2.0C1.7 -3.0 12.2 2.5 20.0 3.0C27.8 3.5 38.0 4.3 45.0 5.0C52.0 5.7 57.8 6.4 62.0 7.0C66.2 7.6 67.5 7.8 70.0 8.5C72.5 9.2 74.8 9.9 77.0 11.0C79.2 12.1 81.0 13.3 83.0 15.0C85.0 16.7 87.0 18.8 89.0 21.0C91.0 23.2 93.0 25.5 95.0 28.0C97.0 30.5 98.8 33.5 101.0 36.0C103.2 38.5 105.8 40.8 108.0 43.0C110.2 45.2 112.0 46.8 114.0 49.0C116.0 51.2 118.2 53.8 120.0 56.0C121.8 58.2 123.7 60.3 125.0 62.0C126.3 63.7 127.2 64.7 128.0 66.0C128.8 67.3 130.0 68.3 129.5 70.0C129.0 71.7 127.2 74.0 125.0 76.0C122.8 78.0 118.8 80.0 116.0 82.0C113.2 84.0 110.7 85.7 108.0 88.0C105.3 90.3 102.5 93.5 100.0 96.0C97.5 98.5 94.8 101.2 93.0 103.0C91.2 104.8 91.2 106.3 89.0 107.0C86.8 107.7 84.0 108.0 80.0 107.0C76.0 106.0 69.7 103.5 65.0 101.0C60.3 98.5 55.8 94.8 52.0 92.0C48.2 89.2 45.0 87.0 42.0 84.0C39.0 81.0 36.3 77.3 34.0 74.0C31.7 70.7 30.0 67.1 28.0 64.0C26.0 60.9 23.8 58.8 22.0 55.6C20.2 52.4 18.5 48.1 17.0 45.0C15.5 41.9 14.8 38.8 13.0 37.0C11.2 35.2 8.5 34.7 6.0 34.0C3.5 33.3 -0.7 38.3 -2.0 33.0C-3.3 27.7 -5.7 7.0 -2.0 2.0Z"/><path fill="#c0c0c0" d="M-2.0 6.5C0.0 2.6 6.0 6.8 10.0 7.3C14.0 7.8 17.7 8.8 22.0 9.2C26.3 9.6 31.2 9.7 36.0 10.0C40.8 10.3 47.3 10.6 51.0 10.8C54.7 11.0 55.5 11.1 58.0 11.2C60.5 11.3 63.8 11.4 66.0 11.6C68.2 11.8 69.3 11.8 71.0 12.5C72.7 13.2 74.2 14.2 76.0 16.0C77.8 17.8 80.0 20.7 82.0 23.0C84.0 25.3 85.8 27.5 88.0 30.0C90.2 32.5 92.7 35.3 95.0 38.0C97.3 40.7 99.8 43.5 102.0 46.0C104.2 48.5 106.5 51.2 108.0 53.0C109.5 54.8 109.7 55.3 111.0 57.0C112.3 58.7 114.8 61.2 116.0 63.0C117.2 64.8 117.8 66.5 118.0 68.0C118.2 69.5 117.8 70.5 117.0 72.0C116.2 73.5 114.5 75.3 113.0 77.0C111.5 78.7 109.8 80.0 108.0 82.0C106.2 84.0 104.0 86.7 102.0 89.0C100.0 91.3 97.8 93.8 96.0 96.0C94.2 98.2 92.3 100.4 91.0 102.0C89.7 103.6 89.2 104.8 88.0 105.5C86.8 106.2 86.7 106.9 84.0 106.0C81.3 105.1 75.7 102.2 72.0 100.0C68.3 97.8 65.3 95.5 62.0 93.0C58.7 90.5 55.2 88.0 52.0 85.0C48.8 82.0 45.8 78.3 43.0 75.0C40.2 71.7 37.5 68.2 35.0 65.0C32.5 61.8 30.2 59.3 28.0 56.0C25.8 52.7 23.8 48.2 22.0 45.0C20.2 41.8 19.2 39.0 17.0 37.0C14.8 35.0 12.2 34.0 9.0 33.0C5.8 32.0 -0.2 35.4 -2.0 31.0C-3.8 26.6 -4.0 10.4 -2.0 6.5Z"/><path fill="#8c8c8c" d="M-2.0 8.0C0.0 5.8 6.0 8.2 10.0 8.6C14.0 9.0 17.7 10.1 22.0 10.5C26.3 10.9 31.2 10.9 36.0 11.2C40.8 11.4 47.0 11.8 51.0 12.0C55.0 12.2 57.2 12.2 60.0 12.4C62.8 12.6 66.0 12.2 68.0 13.0C70.0 13.8 70.7 15.0 72.0 17.0C73.3 19.0 74.7 22.3 76.0 25.0C77.3 27.7 78.3 30.3 80.0 33.0C81.7 35.7 83.8 38.2 86.0 41.0C88.2 43.8 90.8 47.3 93.0 50.0C95.2 52.7 97.2 54.7 99.0 57.0C100.8 59.3 102.5 61.8 104.0 64.0C105.5 66.2 107.2 68.2 108.0 70.0C108.8 71.8 109.2 73.4 109.0 75.0C108.8 76.6 108.3 77.4 107.0 79.5C105.7 81.6 102.6 85.3 101.0 87.4C99.4 89.5 98.7 90.5 97.2 92.3C95.7 94.1 93.5 96.3 92.0 98.0C90.5 99.7 89.2 101.4 88.4 102.5C87.6 103.6 89.4 105.2 87.0 104.5C84.6 103.8 77.7 100.1 74.0 98.0C70.3 95.9 68.0 94.1 65.0 92.0C62.0 89.9 59.3 88.5 56.0 85.5C52.7 82.5 48.0 77.6 45.0 74.0C42.0 70.4 40.2 67.1 38.0 64.0C35.8 60.9 33.5 58.6 32.0 55.6C30.5 52.6 30.0 49.1 29.0 46.0C28.0 42.9 27.5 39.8 26.0 37.0C24.5 34.2 22.7 31.2 20.0 29.0C17.3 26.8 13.7 25.2 10.0 24.0C6.3 22.8 0.0 24.7 -2.0 22.0C-4.0 19.3 -4.0 10.2 -2.0 8.0Z"/><path fill="#626262" d="M1.0 9.0C1.2 7.1 0.5 7.7 2.0 7.5C3.5 7.3 5.3 7.4 10.0 7.8C14.7 8.2 23.3 9.4 30.0 10.0C36.7 10.6 44.7 10.9 50.0 11.2C55.3 11.5 59.5 11.5 62.0 11.8C64.5 12.1 64.2 12.1 65.0 13.0C65.8 13.9 66.3 15.0 67.0 17.0C67.7 19.0 68.2 22.3 69.0 25.0C69.8 27.7 71.0 30.3 72.0 33.0C73.0 35.7 73.7 38.2 75.0 41.0C76.3 43.8 78.5 47.2 80.0 50.0C81.5 52.8 82.3 55.3 84.0 58.0C85.7 60.7 88.2 63.2 90.0 66.0C91.8 68.8 93.6 71.8 95.0 75.0C96.4 78.2 97.8 82.3 98.5 85.0C99.2 87.7 99.4 89.2 99.0 91.0C98.6 92.8 97.5 93.9 96.0 96.0C94.5 98.1 92.0 102.2 90.0 103.5C88.0 104.8 86.7 105.2 84.0 104.0C81.3 102.8 76.8 98.6 74.0 96.5C71.2 94.4 69.3 93.3 67.0 91.5C64.7 89.7 62.7 88.3 60.0 85.5C57.3 82.7 53.5 78.2 51.0 74.5C48.5 70.8 46.8 67.3 45.0 63.6C43.2 59.9 41.5 55.6 40.0 52.0C38.5 48.4 37.2 45.2 36.0 42.0C34.8 38.8 34.3 35.5 33.0 33.0C31.7 30.5 30.2 28.5 28.0 27.0C25.8 25.5 23.0 24.8 20.0 24.0C17.0 23.2 13.0 22.5 10.0 22.0C7.0 21.5 3.5 21.5 2.0 21.0C0.5 20.5 1.2 21.0 1.0 19.0C0.8 17.0 0.8 10.9 1.0 9.0Z"/><path fill="#525252" d="M1.6 10.0C1.7 8.7 2.0 8.7 2.4 8.3C2.8 7.9 2.9 7.8 4.0 7.8C5.1 7.8 6.0 8.1 9.0 8.6C12.0 9.1 17.5 10.4 22.0 10.9C26.5 11.4 31.2 11.4 36.0 11.6C40.8 11.8 47.3 12.2 51.0 12.3C54.7 12.5 56.3 12.2 58.0 12.5C59.7 12.8 60.3 13.1 61.0 14.0C61.7 14.9 62.0 16.8 62.0 18.0C62.0 19.2 62.2 20.8 61.0 21.5C59.8 22.2 57.7 22.2 55.0 22.5C52.3 22.8 48.2 22.8 45.0 23.0C41.8 23.2 38.7 23.6 36.0 23.5C33.3 23.4 31.4 22.9 29.0 22.5C26.6 22.1 24.2 21.5 21.8 21.0C19.4 20.5 17.5 19.9 14.5 19.6C11.5 19.4 6.1 19.7 4.0 19.5C1.9 19.3 2.4 19.1 2.0 18.5C1.6 17.9 1.7 17.4 1.6 16.0C1.5 14.6 1.5 11.3 1.6 10.0Z"/><path fill="#565656" d="M60.0 50.0C62.5 50.0 65.3 50.7 68.0 52.0C70.7 53.3 73.7 56.0 76.0 58.0C78.3 60.0 80.3 61.3 82.0 64.0C83.7 66.7 84.2 70.5 86.0 74.0C87.8 77.5 91.2 82.2 93.0 85.0C94.8 87.8 96.5 89.2 97.0 91.0C97.5 92.8 97.2 94.0 96.0 96.0C94.8 98.0 91.2 101.7 90.0 103.0C88.8 104.3 89.5 103.7 88.5 103.8C87.5 103.9 86.4 104.8 84.0 103.5C81.6 102.2 76.7 98.1 74.0 96.0C71.3 93.9 70.1 92.8 68.0 91.0C65.9 89.2 64.2 88.2 61.5 85.5C58.8 82.8 54.4 77.9 52.0 74.5C49.6 71.1 47.7 67.8 47.0 65.0C46.3 62.2 47.0 60.2 48.0 58.0C49.0 55.8 51.0 53.3 53.0 52.0C55.0 50.7 57.5 50.0 60.0 50.0Z"/></g><g filter="url(#bst)"><path fill="none" stroke="#585858" stroke-width="8.5" stroke-linejoin="round" stroke-linecap="round" d="M25.8 25.5 34.0 31.5 39.5 36.5 48.0 55.0 56.6 73.5 60.5 79.5 64.7 88.0 72.0 96.0 82.0 102.2 88.4 99.0 92.6 93.8"/></g><g filter="url(#bs)"><path fill="rgb(252, 127, 127)" fill-opacity="0.35" d="M68.0 28.0C70.3 26.3 77.3 29.5 82.0 31.0C86.7 32.5 91.3 34.5 96.0 37.0C100.7 39.5 105.5 42.8 110.0 46.0C114.5 49.2 119.8 52.7 123.0 56.0C126.2 59.3 128.2 62.3 129.0 66.0C129.8 69.7 129.8 75.2 128.0 78.0C126.2 80.8 121.3 81.5 118.0 83.0C114.7 84.5 111.0 86.2 108.0 87.0C105.0 87.8 101.8 89.7 100.0 88.0C98.2 86.3 100.2 81.1 96.9 76.8C93.6 72.5 84.8 68.0 80.0 62.0C75.2 56.0 70.2 46.8 68.2 41.1C66.2 35.4 65.7 29.7 68.0 28.0Z"/><path fill="rgb(252, 127, 127)" fill-opacity="0.70" d="M50.0 17.0C50.9 17.2 54.7 18.5 57.0 20.0C59.3 21.5 61.5 23.7 64.0 26.0C66.5 28.3 68.2 31.7 72.0 34.0C75.8 36.3 82.3 37.7 86.5 40.0C90.7 42.3 93.4 45.3 97.0 48.0C100.6 50.7 104.7 53.2 108.0 56.0C111.3 58.8 115.0 62.2 117.0 65.0C119.0 67.8 120.3 70.8 120.0 73.0C119.7 75.2 117.0 76.5 115.0 78.0C113.0 79.5 110.0 81.1 108.0 82.0C106.0 82.9 105.0 84.1 103.2 83.2C101.4 82.3 99.7 78.9 96.9 76.8C94.1 74.7 89.1 72.9 86.3 70.4C83.5 67.9 81.8 64.9 80.0 62.0C78.2 59.1 77.2 56.4 75.2 52.9C73.2 49.4 70.5 45.0 68.2 41.1C65.9 37.2 63.1 32.3 61.1 29.3C59.1 26.3 57.6 24.8 56.0 23.0C54.4 21.2 52.7 19.5 51.7 18.5C50.7 17.5 49.1 16.8 50.0 17.0Z"/><path fill="rgb(252, 127, 127)" fill-opacity="0.45" d="M82.0 52.0C84.8 50.7 92.7 51.0 97.0 52.0C101.3 53.0 104.8 55.7 108.0 58.0C111.2 60.3 114.3 63.5 116.0 66.0C117.7 68.5 118.7 71.0 118.0 73.0C117.3 75.0 114.3 76.5 112.0 78.0C109.7 79.5 106.5 82.3 104.0 82.0C101.5 81.7 99.7 78.2 97.0 76.0C94.3 73.8 90.8 71.7 88.0 69.0C85.2 66.3 81.0 62.8 80.0 60.0C79.0 57.2 79.2 53.3 82.0 52.0Z"/></g><g filter="url(#bp)"><path fill="rgb(252, 127, 127)" d="M-2.0 14.6C-0.3 14.3 4.5 14.5 8.4 14.7C12.3 14.8 16.9 15.3 21.5 15.5C26.1 15.7 32.0 15.6 36.0 15.8C40.0 16.0 43.4 16.2 45.7 16.5C48.0 16.8 48.4 16.9 50.0 17.4C51.6 17.9 54.1 18.6 55.5 19.6C56.9 20.6 57.6 21.9 58.5 23.5C59.4 25.1 59.5 26.4 61.1 29.3C62.7 32.2 65.9 37.2 68.2 41.1C70.5 45.0 73.2 49.4 75.2 52.9C77.2 56.4 78.2 59.1 80.0 62.0C81.8 64.9 83.5 67.9 86.3 70.4C89.1 72.9 94.1 74.7 96.9 76.8C99.7 78.9 103.9 80.4 103.2 83.2C102.5 86.0 95.1 91.2 92.6 93.8C90.1 96.4 90.2 97.6 88.4 99.0C86.6 100.4 84.7 102.7 82.0 102.2C79.3 101.7 74.9 98.4 72.0 96.0C69.1 93.6 66.6 90.8 64.7 88.0C62.8 85.2 61.9 81.9 60.5 79.5C59.1 77.1 58.7 77.6 56.6 73.5C54.5 69.4 50.9 61.2 48.0 55.0C45.1 48.8 41.8 40.4 39.5 36.5C37.2 32.6 36.3 33.3 34.0 31.5C31.7 29.7 28.4 27.2 25.8 25.5C23.2 23.8 21.5 22.4 18.6 21.0C15.7 19.6 11.8 17.6 8.4 16.8C5.0 16.0 -0.3 16.7 -2.0 16.3C-3.7 15.9 -3.7 14.9 -2.0 14.6Z"/></g></g></g><g clip-path="url(#c5)"><g transform="translate(157.65 114.50)"><g filter="url(#bl)"><path fill="#ebebeb" d="M-2.0 2.0C1.7 -3.0 12.2 2.5 20.0 3.0C27.8 3.5 38.0 4.3 45.0 5.0C52.0 5.7 57.8 6.4 62.0 7.0C66.2 7.6 67.5 7.8 70.0 8.5C72.5 9.2 74.8 9.9 77.0 11.0C79.2 12.1 81.0 13.3 83.0 15.0C85.0 16.7 87.0 18.8 89.0 21.0C91.0 23.2 93.0 25.5 95.0 28.0C97.0 30.5 98.8 33.5 101.0 36.0C103.2 38.5 105.8 40.8 108.0 43.0C110.2 45.2 112.0 46.8 114.0 49.0C116.0 51.2 118.2 53.8 120.0 56.0C121.8 58.2 123.7 60.3 125.0 62.0C126.3 63.7 127.2 64.7 128.0 66.0C128.8 67.3 130.0 68.3 129.5 70.0C129.0 71.7 127.2 74.0 125.0 76.0C122.8 78.0 118.8 80.0 116.0 82.0C113.2 84.0 110.7 85.7 108.0 88.0C105.3 90.3 102.5 93.5 100.0 96.0C97.5 98.5 94.8 101.2 93.0 103.0C91.2 104.8 91.2 106.3 89.0 107.0C86.8 107.7 84.0 108.0 80.0 107.0C76.0 106.0 69.7 103.5 65.0 101.0C60.3 98.5 55.8 94.8 52.0 92.0C48.2 89.2 45.0 87.0 42.0 84.0C39.0 81.0 36.3 77.3 34.0 74.0C31.7 70.7 30.0 67.1 28.0 64.0C26.0 60.9 23.8 58.8 22.0 55.6C20.2 52.4 18.5 48.1 17.0 45.0C15.5 41.9 14.8 38.8 13.0 37.0C11.2 35.2 8.5 34.7 6.0 34.0C3.5 33.3 -0.7 38.3 -2.0 33.0C-3.3 27.7 -5.7 7.0 -2.0 2.0Z"/><path fill="#c0c0c0" d="M-2.0 6.5C0.0 2.6 6.0 6.8 10.0 7.3C14.0 7.8 17.7 8.8 22.0 9.2C26.3 9.6 31.2 9.7 36.0 10.0C40.8 10.3 47.3 10.6 51.0 10.8C54.7 11.0 55.5 11.1 58.0 11.2C60.5 11.3 63.8 11.4 66.0 11.6C68.2 11.8 69.3 11.8 71.0 12.5C72.7 13.2 74.2 14.2 76.0 16.0C77.8 17.8 80.0 20.7 82.0 23.0C84.0 25.3 85.8 27.5 88.0 30.0C90.2 32.5 92.7 35.3 95.0 38.0C97.3 40.7 99.8 43.5 102.0 46.0C104.2 48.5 106.5 51.2 108.0 53.0C109.5 54.8 109.7 55.3 111.0 57.0C112.3 58.7 114.8 61.2 116.0 63.0C117.2 64.8 117.8 66.5 118.0 68.0C118.2 69.5 117.8 70.5 117.0 72.0C116.2 73.5 114.5 75.3 113.0 77.0C111.5 78.7 109.8 80.0 108.0 82.0C106.2 84.0 104.0 86.7 102.0 89.0C100.0 91.3 97.8 93.8 96.0 96.0C94.2 98.2 92.3 100.4 91.0 102.0C89.7 103.6 89.2 104.8 88.0 105.5C86.8 106.2 86.7 106.9 84.0 106.0C81.3 105.1 75.7 102.2 72.0 100.0C68.3 97.8 65.3 95.5 62.0 93.0C58.7 90.5 55.2 88.0 52.0 85.0C48.8 82.0 45.8 78.3 43.0 75.0C40.2 71.7 37.5 68.2 35.0 65.0C32.5 61.8 30.2 59.3 28.0 56.0C25.8 52.7 23.8 48.2 22.0 45.0C20.2 41.8 19.2 39.0 17.0 37.0C14.8 35.0 12.2 34.0 9.0 33.0C5.8 32.0 -0.2 35.4 -2.0 31.0C-3.8 26.6 -4.0 10.4 -2.0 6.5Z"/><path fill="#8c8c8c" d="M-2.0 8.0C0.0 5.8 6.0 8.2 10.0 8.6C14.0 9.0 17.7 10.1 22.0 10.5C26.3 10.9 31.2 10.9 36.0 11.2C40.8 11.4 47.0 11.8 51.0 12.0C55.0 12.2 57.2 12.2 60.0 12.4C62.8 12.6 66.0 12.2 68.0 13.0C70.0 13.8 70.7 15.0 72.0 17.0C73.3 19.0 74.7 22.3 76.0 25.0C77.3 27.7 78.3 30.3 80.0 33.0C81.7 35.7 83.8 38.2 86.0 41.0C88.2 43.8 90.8 47.3 93.0 50.0C95.2 52.7 97.2 54.7 99.0 57.0C100.8 59.3 102.5 61.8 104.0 64.0C105.5 66.2 107.2 68.2 108.0 70.0C108.8 71.8 109.2 73.4 109.0 75.0C108.8 76.6 108.3 77.4 107.0 79.5C105.7 81.6 102.6 85.3 101.0 87.4C99.4 89.5 98.7 90.5 97.2 92.3C95.7 94.1 93.5 96.3 92.0 98.0C90.5 99.7 89.2 101.4 88.4 102.5C87.6 103.6 89.4 105.2 87.0 104.5C84.6 103.8 77.7 100.1 74.0 98.0C70.3 95.9 68.0 94.1 65.0 92.0C62.0 89.9 59.3 88.5 56.0 85.5C52.7 82.5 48.0 77.6 45.0 74.0C42.0 70.4 40.2 67.1 38.0 64.0C35.8 60.9 33.5 58.6 32.0 55.6C30.5 52.6 30.0 49.1 29.0 46.0C28.0 42.9 27.5 39.8 26.0 37.0C24.5 34.2 22.7 31.2 20.0 29.0C17.3 26.8 13.7 25.2 10.0 24.0C6.3 22.8 0.0 24.7 -2.0 22.0C-4.0 19.3 -4.0 10.2 -2.0 8.0Z"/><path fill="#626262" d="M1.0 9.0C1.2 7.1 0.5 7.7 2.0 7.5C3.5 7.3 5.3 7.4 10.0 7.8C14.7 8.2 23.3 9.4 30.0 10.0C36.7 10.6 44.7 10.9 50.0 11.2C55.3 11.5 59.5 11.5 62.0 11.8C64.5 12.1 64.2 12.1 65.0 13.0C65.8 13.9 66.3 15.0 67.0 17.0C67.7 19.0 68.2 22.3 69.0 25.0C69.8 27.7 71.0 30.3 72.0 33.0C73.0 35.7 73.7 38.2 75.0 41.0C76.3 43.8 78.5 47.2 80.0 50.0C81.5 52.8 82.3 55.3 84.0 58.0C85.7 60.7 88.2 63.2 90.0 66.0C91.8 68.8 93.6 71.8 95.0 75.0C96.4 78.2 97.8 82.3 98.5 85.0C99.2 87.7 99.4 89.2 99.0 91.0C98.6 92.8 97.5 93.9 96.0 96.0C94.5 98.1 92.0 102.2 90.0 103.5C88.0 104.8 86.7 105.2 84.0 104.0C81.3 102.8 76.8 98.6 74.0 96.5C71.2 94.4 69.3 93.3 67.0 91.5C64.7 89.7 62.7 88.3 60.0 85.5C57.3 82.7 53.5 78.2 51.0 74.5C48.5 70.8 46.8 67.3 45.0 63.6C43.2 59.9 41.5 55.6 40.0 52.0C38.5 48.4 37.2 45.2 36.0 42.0C34.8 38.8 34.3 35.5 33.0 33.0C31.7 30.5 30.2 28.5 28.0 27.0C25.8 25.5 23.0 24.8 20.0 24.0C17.0 23.2 13.0 22.5 10.0 22.0C7.0 21.5 3.5 21.5 2.0 21.0C0.5 20.5 1.2 21.0 1.0 19.0C0.8 17.0 0.8 10.9 1.0 9.0Z"/><path fill="#525252" d="M1.6 10.0C1.7 8.7 2.0 8.7 2.4 8.3C2.8 7.9 2.9 7.8 4.0 7.8C5.1 7.8 6.0 8.1 9.0 8.6C12.0 9.1 17.5 10.4 22.0 10.9C26.5 11.4 31.2 11.4 36.0 11.6C40.8 11.8 47.3 12.2 51.0 12.3C54.7 12.5 56.3 12.2 58.0 12.5C59.7 12.8 60.3 13.1 61.0 14.0C61.7 14.9 62.0 16.8 62.0 18.0C62.0 19.2 62.2 20.8 61.0 21.5C59.8 22.2 57.7 22.2 55.0 22.5C52.3 22.8 48.2 22.8 45.0 23.0C41.8 23.2 38.7 23.6 36.0 23.5C33.3 23.4 31.4 22.9 29.0 22.5C26.6 22.1 24.2 21.5 21.8 21.0C19.4 20.5 17.5 19.9 14.5 19.6C11.5 19.4 6.1 19.7 4.0 19.5C1.9 19.3 2.4 19.1 2.0 18.5C1.6 17.9 1.7 17.4 1.6 16.0C1.5 14.6 1.5 11.3 1.6 10.0Z"/><path fill="#565656" d="M60.0 50.0C62.5 50.0 65.3 50.7 68.0 52.0C70.7 53.3 73.7 56.0 76.0 58.0C78.3 60.0 80.3 61.3 82.0 64.0C83.7 66.7 84.2 70.5 86.0 74.0C87.8 77.5 91.2 82.2 93.0 85.0C94.8 87.8 96.5 89.2 97.0 91.0C97.5 92.8 97.2 94.0 96.0 96.0C94.8 98.0 91.2 101.7 90.0 103.0C88.8 104.3 89.5 103.7 88.5 103.8C87.5 103.9 86.4 104.8 84.0 103.5C81.6 102.2 76.7 98.1 74.0 96.0C71.3 93.9 70.1 92.8 68.0 91.0C65.9 89.2 64.2 88.2 61.5 85.5C58.8 82.8 54.4 77.9 52.0 74.5C49.6 71.1 47.7 67.8 47.0 65.0C46.3 62.2 47.0 60.2 48.0 58.0C49.0 55.8 51.0 53.3 53.0 52.0C55.0 50.7 57.5 50.0 60.0 50.0Z"/></g><g filter="url(#bst)"><path fill="none" stroke="#585858" stroke-width="9.0" stroke-linejoin="round" stroke-linecap="round" d="M28.0 21.3 35.2 27.1 41.0 34.3 45.3 36.5 51.2 51.0 58.4 65.5 61.3 73.5 65.3 83.7 72.6 92.4 79.9 98.2 86.0 101.6 88.3 98.2 95.1 90.3 100.0 85.0"/></g><g filter="url(#bs)"><path fill="rgb(252, 127, 127)" fill-opacity="0.35" d="M78.0 50.0C79.6 48.4 84.3 55.0 88.0 55.0C91.7 55.0 96.0 51.8 100.0 50.0C104.0 48.2 107.7 45.8 112.0 44.0C116.3 42.2 123.1 39.7 126.0 39.0C128.9 38.3 129.2 37.3 129.5 40.0C129.8 42.7 128.9 50.3 128.0 55.0C127.1 59.7 126.0 64.5 124.0 68.0C122.0 71.5 118.7 73.7 116.0 76.0C113.3 78.3 110.0 81.3 108.0 82.0C106.0 82.7 107.9 81.8 104.2 80.0C100.5 78.2 90.3 73.6 86.0 71.0C81.7 68.4 79.5 68.1 78.2 64.6C76.9 61.1 76.4 51.6 78.0 50.0Z"/><path fill="rgb(252, 127, 127)" fill-opacity="0.70" d="M50.0 19.0C50.6 19.1 53.8 20.2 56.0 22.0C58.2 23.8 60.7 26.8 63.0 30.0C65.3 33.2 67.8 37.7 70.0 41.0C72.2 44.3 74.0 47.5 76.0 50.0C78.0 52.5 79.7 54.7 82.0 56.0C84.3 57.3 87.0 57.0 90.0 58.0C93.0 59.0 96.7 60.3 100.0 62.0C103.3 63.7 107.8 66.0 110.0 68.0C112.2 70.0 113.3 72.2 113.0 74.0C112.7 75.8 109.5 78.0 108.0 79.0C106.5 80.0 106.4 81.0 104.2 80.0C102.0 79.0 98.1 74.7 95.1 73.2C92.1 71.7 88.8 72.4 86.0 71.0C83.2 69.6 80.3 67.2 78.2 64.6C76.1 62.0 75.5 58.7 73.5 55.2C71.5 51.7 68.8 47.3 66.5 43.4C64.2 39.5 61.8 35.4 59.4 31.7C57.0 28.0 53.9 23.2 52.4 21.1C50.8 19.0 49.4 18.9 50.0 19.0Z"/><path fill="rgb(252, 127, 127)" fill-opacity="0.60" d="M80.0 62.0C80.8 57.8 90.0 55.8 95.0 53.0C100.0 50.2 104.8 47.5 110.0 45.0C115.2 42.5 122.5 39.4 126.0 38.0C129.5 36.6 130.2 34.2 131.0 36.5C131.8 38.8 132.8 48.4 131.0 52.0C129.2 55.6 123.8 55.7 120.0 58.0C116.2 60.3 111.7 63.5 108.0 66.0C104.3 68.5 101.0 71.0 98.0 73.0C95.0 75.0 93.0 79.8 90.0 78.0C87.0 76.2 79.2 66.2 80.0 62.0Z"/></g><g filter="url(#bp)"><path fill="rgb(252, 127, 127)" d="M-2.0 14.4C-0.2 14.2 5.0 14.4 9.0 14.5C13.0 14.6 17.5 14.8 22.1 15.2C26.7 15.5 32.5 16.0 36.6 16.6C40.7 17.2 44.2 18.4 46.8 19.1C49.4 19.9 50.2 19.0 52.4 21.1C54.5 23.2 57.0 28.0 59.4 31.7C61.8 35.4 64.2 39.5 66.5 43.4C68.8 47.3 71.5 51.7 73.5 55.2C75.5 58.7 76.1 62.0 78.2 64.6C80.3 67.2 83.2 69.6 86.0 71.0C88.8 72.4 92.1 71.7 95.1 73.2C98.1 74.7 104.2 77.2 104.2 80.0C104.2 82.8 97.8 87.3 95.1 90.3C92.4 93.3 89.8 96.3 88.3 98.2C86.8 100.1 86.7 101.2 86.0 101.6C85.3 102.0 85.2 101.1 84.2 100.5C83.2 99.9 81.8 99.5 79.9 98.2C78.0 96.9 75.0 94.8 72.6 92.4C70.2 90.0 67.2 86.9 65.3 83.7C63.5 80.5 62.5 76.5 61.3 73.5C60.1 70.5 60.1 69.2 58.4 65.5C56.7 61.8 53.4 55.8 51.2 51.0C49.0 46.2 47.0 39.3 45.3 36.5C43.6 33.7 42.7 35.9 41.0 34.3C39.3 32.7 37.4 29.3 35.2 27.1C33.0 24.9 30.7 22.9 28.0 21.3C25.3 19.7 22.4 18.5 19.2 17.6C16.0 16.7 12.5 16.1 9.0 15.8C5.5 15.5 -0.2 15.8 -2.0 15.6C-3.8 15.4 -3.8 14.6 -2.0 14.4Z"/></g></g></g><g clip-path="url(#c6)"><g transform="translate(287.00 114.50)"><g filter="url(#bl)"><path fill="#ebebeb" d="M-2.0 2.0C1.7 -3.0 12.2 2.5 20.0 3.0C27.8 3.5 38.0 4.3 45.0 5.0C52.0 5.7 57.8 6.4 62.0 7.0C66.2 7.6 67.5 7.8 70.0 8.5C72.5 9.2 74.8 9.9 77.0 11.0C79.2 12.1 81.0 13.3 83.0 15.0C85.0 16.7 87.0 18.8 89.0 21.0C91.0 23.2 93.0 25.5 95.0 28.0C97.0 30.5 98.8 33.5 101.0 36.0C103.2 38.5 105.8 40.8 108.0 43.0C110.2 45.2 112.0 46.8 114.0 49.0C116.0 51.2 118.2 53.8 120.0 56.0C121.8 58.2 123.7 60.3 125.0 62.0C126.3 63.7 127.2 64.7 128.0 66.0C128.8 67.3 130.0 68.3 129.5 70.0C129.0 71.7 127.2 74.0 125.0 76.0C122.8 78.0 118.8 80.0 116.0 82.0C113.2 84.0 110.7 85.7 108.0 88.0C105.3 90.3 102.5 93.5 100.0 96.0C97.5 98.5 94.8 101.2 93.0 103.0C91.2 104.8 91.2 106.3 89.0 107.0C86.8 107.7 84.0 108.0 80.0 107.0C76.0 106.0 69.7 103.5 65.0 101.0C60.3 98.5 55.8 94.8 52.0 92.0C48.2 89.2 45.0 87.0 42.0 84.0C39.0 81.0 36.3 77.3 34.0 74.0C31.7 70.7 30.0 67.1 28.0 64.0C26.0 60.9 23.8 58.8 22.0 55.6C20.2 52.4 18.5 48.1 17.0 45.0C15.5 41.9 14.8 38.8 13.0 37.0C11.2 35.2 8.5 34.7 6.0 34.0C3.5 33.3 -0.7 38.3 -2.0 33.0C-3.3 27.7 -5.7 7.0 -2.0 2.0Z"/><path fill="#c0c0c0" d="M-2.0 6.5C0.0 2.6 6.0 6.8 10.0 7.3C14.0 7.8 17.7 8.8 22.0 9.2C26.3 9.6 31.2 9.7 36.0 10.0C40.8 10.3 47.3 10.6 51.0 10.8C54.7 11.0 55.5 11.1 58.0 11.2C60.5 11.3 63.8 11.4 66.0 11.6C68.2 11.8 69.3 11.8 71.0 12.5C72.7 13.2 74.2 14.2 76.0 16.0C77.8 17.8 80.0 20.7 82.0 23.0C84.0 25.3 85.8 27.5 88.0 30.0C90.2 32.5 92.7 35.3 95.0 38.0C97.3 40.7 99.8 43.5 102.0 46.0C104.2 48.5 106.5 51.2 108.0 53.0C109.5 54.8 109.7 55.3 111.0 57.0C112.3 58.7 114.8 61.2 116.0 63.0C117.2 64.8 117.8 66.5 118.0 68.0C118.2 69.5 117.8 70.5 117.0 72.0C116.2 73.5 114.5 75.3 113.0 77.0C111.5 78.7 109.8 80.0 108.0 82.0C106.2 84.0 104.0 86.7 102.0 89.0C100.0 91.3 97.8 93.8 96.0 96.0C94.2 98.2 92.3 100.4 91.0 102.0C89.7 103.6 89.2 104.8 88.0 105.5C86.8 106.2 86.7 106.9 84.0 106.0C81.3 105.1 75.7 102.2 72.0 100.0C68.3 97.8 65.3 95.5 62.0 93.0C58.7 90.5 55.2 88.0 52.0 85.0C48.8 82.0 45.8 78.3 43.0 75.0C40.2 71.7 37.5 68.2 35.0 65.0C32.5 61.8 30.2 59.3 28.0 56.0C25.8 52.7 23.8 48.2 22.0 45.0C20.2 41.8 19.2 39.0 17.0 37.0C14.8 35.0 12.2 34.0 9.0 33.0C5.8 32.0 -0.2 35.4 -2.0 31.0C-3.8 26.6 -4.0 10.4 -2.0 6.5Z"/><path fill="#8c8c8c" d="M-2.0 8.0C0.0 5.8 6.0 8.2 10.0 8.6C14.0 9.0 17.7 10.1 22.0 10.5C26.3 10.9 31.2 10.9 36.0 11.2C40.8 11.4 47.0 11.8 51.0 12.0C55.0 12.2 57.2 12.2 60.0 12.4C62.8 12.6 66.0 12.2 68.0 13.0C70.0 13.8 70.7 15.0 72.0 17.0C73.3 19.0 74.7 22.3 76.0 25.0C77.3 27.7 78.3 30.3 80.0 33.0C81.7 35.7 83.8 38.2 86.0 41.0C88.2 43.8 90.8 47.3 93.0 50.0C95.2 52.7 97.2 54.7 99.0 57.0C100.8 59.3 102.5 61.8 104.0 64.0C105.5 66.2 107.2 68.2 108.0 70.0C108.8 71.8 109.2 73.4 109.0 75.0C108.8 76.6 108.3 77.4 107.0 79.5C105.7 81.6 102.6 85.3 101.0 87.4C99.4 89.5 98.7 90.5 97.2 92.3C95.7 94.1 93.5 96.3 92.0 98.0C90.5 99.7 89.2 101.4 88.4 102.5C87.6 103.6 89.4 105.2 87.0 104.5C84.6 103.8 77.7 100.1 74.0 98.0C70.3 95.9 68.0 94.1 65.0 92.0C62.0 89.9 59.3 88.5 56.0 85.5C52.7 82.5 48.0 77.6 45.0 74.0C42.0 70.4 40.2 67.1 38.0 64.0C35.8 60.9 33.5 58.6 32.0 55.6C30.5 52.6 30.0 49.1 29.0 46.0C28.0 42.9 27.5 39.8 26.0 37.0C24.5 34.2 22.7 31.2 20.0 29.0C17.3 26.8 13.7 25.2 10.0 24.0C6.3 22.8 0.0 24.7 -2.0 22.0C-4.0 19.3 -4.0 10.2 -2.0 8.0Z"/><path fill="#626262" d="M1.0 9.0C1.2 7.1 0.5 7.7 2.0 7.5C3.5 7.3 5.3 7.4 10.0 7.8C14.7 8.2 23.3 9.4 30.0 10.0C36.7 10.6 44.7 10.9 50.0 11.2C55.3 11.5 59.5 11.5 62.0 11.8C64.5 12.1 64.2 12.1 65.0 13.0C65.8 13.9 66.3 15.0 67.0 17.0C67.7 19.0 68.2 22.3 69.0 25.0C69.8 27.7 71.0 30.3 72.0 33.0C73.0 35.7 73.7 38.2 75.0 41.0C76.3 43.8 78.5 47.2 80.0 50.0C81.5 52.8 82.3 55.3 84.0 58.0C85.7 60.7 88.2 63.2 90.0 66.0C91.8 68.8 93.6 71.8 95.0 75.0C96.4 78.2 97.8 82.3 98.5 85.0C99.2 87.7 99.4 89.2 99.0 91.0C98.6 92.8 97.5 93.9 96.0 96.0C94.5 98.1 92.0 102.2 90.0 103.5C88.0 104.8 86.7 105.2 84.0 104.0C81.3 102.8 76.8 98.6 74.0 96.5C71.2 94.4 69.3 93.3 67.0 91.5C64.7 89.7 62.7 88.3 60.0 85.5C57.3 82.7 53.5 78.2 51.0 74.5C48.5 70.8 46.8 67.3 45.0 63.6C43.2 59.9 41.5 55.6 40.0 52.0C38.5 48.4 37.2 45.2 36.0 42.0C34.8 38.8 34.3 35.5 33.0 33.0C31.7 30.5 30.2 28.5 28.0 27.0C25.8 25.5 23.0 24.8 20.0 24.0C17.0 23.2 13.0 22.5 10.0 22.0C7.0 21.5 3.5 21.5 2.0 21.0C0.5 20.5 1.2 21.0 1.0 19.0C0.8 17.0 0.8 10.9 1.0 9.0Z"/><path fill="#525252" d="M1.6 10.0C1.7 8.7 2.0 8.7 2.4 8.3C2.8 7.9 2.9 7.8 4.0 7.8C5.1 7.8 6.0 8.1 9.0 8.6C12.0 9.1 17.5 10.4 22.0 10.9C26.5 11.4 31.2 11.4 36.0 11.6C40.8 11.8 47.3 12.2 51.0 12.3C54.7 12.5 56.3 12.2 58.0 12.5C59.7 12.8 60.3 13.1 61.0 14.0C61.7 14.9 62.0 16.8 62.0 18.0C62.0 19.2 62.2 20.8 61.0 21.5C59.8 22.2 57.7 22.2 55.0 22.5C52.3 22.8 48.2 22.8 45.0 23.0C41.8 23.2 38.7 23.6 36.0 23.5C33.3 23.4 31.4 22.9 29.0 22.5C26.6 22.1 24.2 21.5 21.8 21.0C19.4 20.5 17.5 19.9 14.5 19.6C11.5 19.4 6.1 19.7 4.0 19.5C1.9 19.3 2.4 19.1 2.0 18.5C1.6 17.9 1.7 17.4 1.6 16.0C1.5 14.6 1.5 11.3 1.6 10.0Z"/><path fill="#565656" d="M60.0 50.0C62.5 50.0 65.3 50.7 68.0 52.0C70.7 53.3 73.7 56.0 76.0 58.0C78.3 60.0 80.3 61.3 82.0 64.0C83.7 66.7 84.2 70.5 86.0 74.0C87.8 77.5 91.2 82.2 93.0 85.0C94.8 87.8 96.5 89.2 97.0 91.0C97.5 92.8 97.2 94.0 96.0 96.0C94.8 98.0 91.2 101.7 90.0 103.0C88.8 104.3 89.5 103.7 88.5 103.8C87.5 103.9 86.4 104.8 84.0 103.5C81.6 102.2 76.7 98.1 74.0 96.0C71.3 93.9 70.1 92.8 68.0 91.0C65.9 89.2 64.2 88.2 61.5 85.5C58.8 82.8 54.4 77.9 52.0 74.5C49.6 71.1 47.7 67.8 47.0 65.0C46.3 62.2 47.0 60.2 48.0 58.0C49.0 55.8 51.0 53.3 53.0 52.0C55.0 50.7 57.5 50.0 60.0 50.0Z"/></g><g filter="url(#bst)"><path fill="none" stroke="#585858" stroke-width="8.0" stroke-linejoin="round" stroke-linecap="round" d="M25.9 22.9 31.8 27.0 37.0 31.0 42.1 36.5 47.9 51.0 55.2 65.5 58.0 73.5 65.0 86.6 73.7 95.3 83.9 102.5 86.0 102.5 90.2 97.4"/></g><g filter="url(#bs)"><path fill="rgb(252, 127, 127)" fill-opacity="0.35" d="M80.0 40.0C82.0 38.7 90.0 43.7 95.0 46.0C100.0 48.3 105.5 51.3 110.0 54.0C114.5 56.7 119.0 59.3 122.0 62.0C125.0 64.7 127.3 67.0 128.0 70.0C128.7 73.0 127.7 77.0 126.0 80.0C124.3 83.0 121.0 85.5 118.0 88.0C115.0 90.5 111.7 92.8 108.0 95.0C104.3 97.2 99.0 99.7 96.0 101.0C93.0 102.3 91.0 103.6 90.0 103.0C89.0 102.4 88.1 100.4 90.2 97.4C92.3 94.4 101.1 88.6 102.5 85.2C103.9 81.8 100.5 80.1 98.4 77.0C96.4 73.9 92.8 70.6 90.2 66.8C87.6 63.0 84.7 58.5 83.0 54.0C81.3 49.5 78.0 41.3 80.0 40.0Z"/><path fill="rgb(252, 127, 127)" fill-opacity="0.70" d="M52.0 12.5C52.3 12.3 56.0 13.6 58.0 15.0C60.0 16.4 62.0 18.3 64.0 21.0C66.0 23.7 68.2 28.2 70.0 31.0C71.8 33.8 72.7 35.5 75.0 38.0C77.3 40.5 80.5 43.7 84.0 46.0C87.5 48.3 92.0 49.8 96.0 52.0C100.0 54.2 104.3 56.7 108.0 59.0C111.7 61.3 115.8 63.8 118.0 66.0C120.2 68.2 121.3 70.0 121.0 72.0C120.7 74.0 118.2 76.0 116.0 78.0C113.8 80.0 110.2 82.8 108.0 84.0C105.8 85.2 104.1 86.4 102.5 85.2C100.9 84.0 100.5 80.1 98.4 77.0C96.4 73.9 92.8 70.6 90.2 66.8C87.6 63.0 85.5 57.6 83.0 54.0C80.5 50.4 77.7 47.9 75.0 45.0C72.3 42.1 69.5 40.2 67.0 36.4C64.5 32.6 61.8 25.4 60.0 22.0C58.2 18.6 57.3 17.6 56.0 16.0C54.7 14.4 51.7 12.7 52.0 12.5Z"/><path fill="rgb(252, 127, 127)" fill-opacity="0.45" d="M90.0 60.0C91.5 58.7 98.3 60.8 102.0 62.0C105.7 63.2 109.3 65.3 112.0 67.0C114.7 68.7 117.7 70.2 118.0 72.0C118.3 73.8 116.0 76.0 114.0 78.0C112.0 80.0 108.3 84.0 106.0 84.0C103.7 84.0 102.2 80.3 100.0 78.0C97.8 75.7 94.7 73.0 93.0 70.0C91.3 67.0 88.5 61.3 90.0 60.0Z"/></g><g filter="url(#bp)"><path fill="rgb(252, 127, 127)" d="M-2.0 9.5C-1.3 9.0 -0.5 9.3 2.2 9.7C5.0 10.1 10.0 11.3 14.5 11.8C19.0 12.3 24.2 12.4 29.0 12.6C33.8 12.8 39.6 12.7 43.5 12.9C47.4 13.1 50.1 13.5 52.2 14.0C54.3 14.5 54.7 14.7 56.0 16.0C57.3 17.3 58.2 18.6 60.0 22.0C61.8 25.4 64.5 32.6 67.0 36.4C69.5 40.2 72.3 42.1 75.0 45.0C77.7 47.9 80.5 50.4 83.0 54.0C85.5 57.6 87.6 63.0 90.2 66.8C92.8 70.6 96.4 73.9 98.4 77.0C100.5 80.1 103.9 81.8 102.5 85.2C101.1 88.6 93.1 94.5 90.2 97.4C87.3 100.3 86.3 101.7 85.3 102.5C84.2 103.3 85.8 103.7 83.9 102.5C82.0 101.3 76.9 98.0 73.7 95.3C70.5 92.6 67.6 90.2 65.0 86.6C62.4 83.0 59.6 77.0 58.0 73.5C56.4 70.0 56.9 69.2 55.2 65.5C53.5 61.8 50.1 55.8 47.9 51.0C45.7 46.2 43.9 39.8 42.1 36.5C40.3 33.2 38.7 32.6 37.0 31.0C35.3 29.4 33.6 28.4 31.8 27.0C29.9 25.6 27.9 24.2 25.9 22.9C23.9 21.6 22.4 20.6 20.0 19.4C17.6 18.2 14.6 16.7 11.6 15.6C8.6 14.5 4.5 13.5 2.2 13.0C-0.1 12.5 -1.3 13.4 -2.0 12.8C-2.7 12.2 -2.7 10.0 -2.0 9.5Z"/></g></g></g><g clip-path="url(#c7)"><g transform="translate(416.35 114.50)"><g filter="url(#bl)"><path fill="#ebebeb" d="M-2.0 2.0C1.7 -3.0 12.2 2.5 20.0 3.0C27.8 3.5 38.0 4.3 45.0 5.0C52.0 5.7 57.8 6.4 62.0 7.0C66.2 7.6 67.5 7.8 70.0 8.5C72.5 9.2 74.8 9.9 77.0 11.0C79.2 12.1 81.0 13.3 83.0 15.0C85.0 16.7 87.0 18.8 89.0 21.0C91.0 23.2 93.0 25.5 95.0 28.0C97.0 30.5 98.8 33.5 101.0 36.0C103.2 38.5 105.8 40.8 108.0 43.0C110.2 45.2 112.0 46.8 114.0 49.0C116.0 51.2 118.2 53.8 120.0 56.0C121.8 58.2 123.7 60.3 125.0 62.0C126.3 63.7 127.2 64.7 128.0 66.0C128.8 67.3 130.0 68.3 129.5 70.0C129.0 71.7 127.2 74.0 125.0 76.0C122.8 78.0 118.8 80.0 116.0 82.0C113.2 84.0 110.7 85.7 108.0 88.0C105.3 90.3 102.5 93.5 100.0 96.0C97.5 98.5 94.8 101.2 93.0 103.0C91.2 104.8 91.2 106.3 89.0 107.0C86.8 107.7 84.0 108.0 80.0 107.0C76.0 106.0 69.7 103.5 65.0 101.0C60.3 98.5 55.8 94.8 52.0 92.0C48.2 89.2 45.0 87.0 42.0 84.0C39.0 81.0 36.3 77.3 34.0 74.0C31.7 70.7 30.0 67.1 28.0 64.0C26.0 60.9 23.8 58.8 22.0 55.6C20.2 52.4 18.5 48.1 17.0 45.0C15.5 41.9 14.8 38.8 13.0 37.0C11.2 35.2 8.5 34.7 6.0 34.0C3.5 33.3 -0.7 38.3 -2.0 33.0C-3.3 27.7 -5.7 7.0 -2.0 2.0Z"/><path fill="#c0c0c0" d="M-2.0 6.5C0.0 2.6 6.0 6.8 10.0 7.3C14.0 7.8 17.7 8.8 22.0 9.2C26.3 9.6 31.2 9.7 36.0 10.0C40.8 10.3 47.3 10.6 51.0 10.8C54.7 11.0 55.5 11.1 58.0 11.2C60.5 11.3 63.8 11.4 66.0 11.6C68.2 11.8 69.3 11.8 71.0 12.5C72.7 13.2 74.2 14.2 76.0 16.0C77.8 17.8 80.0 20.7 82.0 23.0C84.0 25.3 85.8 27.5 88.0 30.0C90.2 32.5 92.7 35.3 95.0 38.0C97.3 40.7 99.8 43.5 102.0 46.0C104.2 48.5 106.5 51.2 108.0 53.0C109.5 54.8 109.7 55.3 111.0 57.0C112.3 58.7 114.8 61.2 116.0 63.0C117.2 64.8 117.8 66.5 118.0 68.0C118.2 69.5 117.8 70.5 117.0 72.0C116.2 73.5 114.5 75.3 113.0 77.0C111.5 78.7 109.8 80.0 108.0 82.0C106.2 84.0 104.0 86.7 102.0 89.0C100.0 91.3 97.8 93.8 96.0 96.0C94.2 98.2 92.3 100.4 91.0 102.0C89.7 103.6 89.2 104.8 88.0 105.5C86.8 106.2 86.7 106.9 84.0 106.0C81.3 105.1 75.7 102.2 72.0 100.0C68.3 97.8 65.3 95.5 62.0 93.0C58.7 90.5 55.2 88.0 52.0 85.0C48.8 82.0 45.8 78.3 43.0 75.0C40.2 71.7 37.5 68.2 35.0 65.0C32.5 61.8 30.2 59.3 28.0 56.0C25.8 52.7 23.8 48.2 22.0 45.0C20.2 41.8 19.2 39.0 17.0 37.0C14.8 35.0 12.2 34.0 9.0 33.0C5.8 32.0 -0.2 35.4 -2.0 31.0C-3.8 26.6 -4.0 10.4 -2.0 6.5Z"/><path fill="#8c8c8c" d="M-2.0 8.0C0.0 5.8 6.0 8.2 10.0 8.6C14.0 9.0 17.7 10.1 22.0 10.5C26.3 10.9 31.2 10.9 36.0 11.2C40.8 11.4 47.0 11.8 51.0 12.0C55.0 12.2 57.2 12.2 60.0 12.4C62.8 12.6 66.0 12.2 68.0 13.0C70.0 13.8 70.7 15.0 72.0 17.0C73.3 19.0 74.7 22.3 76.0 25.0C77.3 27.7 78.3 30.3 80.0 33.0C81.7 35.7 83.8 38.2 86.0 41.0C88.2 43.8 90.8 47.3 93.0 50.0C95.2 52.7 97.2 54.7 99.0 57.0C100.8 59.3 102.5 61.8 104.0 64.0C105.5 66.2 107.2 68.2 108.0 70.0C108.8 71.8 109.2 73.4 109.0 75.0C108.8 76.6 108.3 77.4 107.0 79.5C105.7 81.6 102.6 85.3 101.0 87.4C99.4 89.5 98.7 90.5 97.2 92.3C95.7 94.1 93.5 96.3 92.0 98.0C90.5 99.7 89.2 101.4 88.4 102.5C87.6 103.6 89.4 105.2 87.0 104.5C84.6 103.8 77.7 100.1 74.0 98.0C70.3 95.9 68.0 94.1 65.0 92.0C62.0 89.9 59.3 88.5 56.0 85.5C52.7 82.5 48.0 77.6 45.0 74.0C42.0 70.4 40.2 67.1 38.0 64.0C35.8 60.9 33.5 58.6 32.0 55.6C30.5 52.6 30.0 49.1 29.0 46.0C28.0 42.9 27.5 39.8 26.0 37.0C24.5 34.2 22.7 31.2 20.0 29.0C17.3 26.8 13.7 25.2 10.0 24.0C6.3 22.8 0.0 24.7 -2.0 22.0C-4.0 19.3 -4.0 10.2 -2.0 8.0Z"/><path fill="#626262" d="M1.0 9.0C1.2 7.1 0.5 7.7 2.0 7.5C3.5 7.3 5.3 7.4 10.0 7.8C14.7 8.2 23.3 9.4 30.0 10.0C36.7 10.6 44.7 10.9 50.0 11.2C55.3 11.5 59.5 11.5 62.0 11.8C64.5 12.1 64.2 12.1 65.0 13.0C65.8 13.9 66.3 15.0 67.0 17.0C67.7 19.0 68.2 22.3 69.0 25.0C69.8 27.7 71.0 30.3 72.0 33.0C73.0 35.7 73.7 38.2 75.0 41.0C76.3 43.8 78.5 47.2 80.0 50.0C81.5 52.8 82.3 55.3 84.0 58.0C85.7 60.7 88.2 63.2 90.0 66.0C91.8 68.8 93.6 71.8 95.0 75.0C96.4 78.2 97.8 82.3 98.5 85.0C99.2 87.7 99.4 89.2 99.0 91.0C98.6 92.8 97.5 93.9 96.0 96.0C94.5 98.1 92.0 102.2 90.0 103.5C88.0 104.8 86.7 105.2 84.0 104.0C81.3 102.8 76.8 98.6 74.0 96.5C71.2 94.4 69.3 93.3 67.0 91.5C64.7 89.7 62.7 88.3 60.0 85.5C57.3 82.7 53.5 78.2 51.0 74.5C48.5 70.8 46.8 67.3 45.0 63.6C43.2 59.9 41.5 55.6 40.0 52.0C38.5 48.4 37.2 45.2 36.0 42.0C34.8 38.8 34.3 35.5 33.0 33.0C31.7 30.5 30.2 28.5 28.0 27.0C25.8 25.5 23.0 24.8 20.0 24.0C17.0 23.2 13.0 22.5 10.0 22.0C7.0 21.5 3.5 21.5 2.0 21.0C0.5 20.5 1.2 21.0 1.0 19.0C0.8 17.0 0.8 10.9 1.0 9.0Z"/><path fill="#525252" d="M1.6 10.0C1.7 8.7 2.0 8.7 2.4 8.3C2.8 7.9 2.9 7.8 4.0 7.8C5.1 7.8 6.0 8.1 9.0 8.6C12.0 9.1 17.5 10.4 22.0 10.9C26.5 11.4 31.2 11.4 36.0 11.6C40.8 11.8 47.3 12.2 51.0 12.3C54.7 12.5 56.3 12.2 58.0 12.5C59.7 12.8 60.3 13.1 61.0 14.0C61.7 14.9 62.0 16.8 62.0 18.0C62.0 19.2 62.2 20.8 61.0 21.5C59.8 22.2 57.7 22.2 55.0 22.5C52.3 22.8 48.2 22.8 45.0 23.0C41.8 23.2 38.7 23.6 36.0 23.5C33.3 23.4 31.4 22.9 29.0 22.5C26.6 22.1 24.2 21.5 21.8 21.0C19.4 20.5 17.5 19.9 14.5 19.6C11.5 19.4 6.1 19.7 4.0 19.5C1.9 19.3 2.4 19.1 2.0 18.5C1.6 17.9 1.7 17.4 1.6 16.0C1.5 14.6 1.5 11.3 1.6 10.0Z"/><path fill="#565656" d="M60.0 50.0C62.5 50.0 65.3 50.7 68.0 52.0C70.7 53.3 73.7 56.0 76.0 58.0C78.3 60.0 80.3 61.3 82.0 64.0C83.7 66.7 84.2 70.5 86.0 74.0C87.8 77.5 91.2 82.2 93.0 85.0C94.8 87.8 96.5 89.2 97.0 91.0C97.5 92.8 97.2 94.0 96.0 96.0C94.8 98.0 91.2 101.7 90.0 103.0C88.8 104.3 89.5 103.7 88.5 103.8C87.5 103.9 86.4 104.8 84.0 103.5C81.6 102.2 76.7 98.1 74.0 96.0C71.3 93.9 70.1 92.8 68.0 91.0C65.9 89.2 64.2 88.2 61.5 85.5C58.8 82.8 54.4 77.9 52.0 74.5C49.6 71.1 47.7 67.8 47.0 65.0C46.3 62.2 47.0 60.2 48.0 58.0C49.0 55.8 51.0 53.3 53.0 52.0C55.0 50.7 57.5 50.0 60.0 50.0Z"/></g><g filter="url(#bst)"><path fill="none" stroke="#585858" stroke-width="9.0" stroke-linejoin="round" stroke-linecap="round" d="M31.6 24.2 37.4 30.0 43.2 36.5 49.0 51.0 56.3 65.5 60.6 73.5 64.7 80.8 71.9 89.5 79.2 96.7 85.0 100.4 86.2 100.8 88.4 98.2 92.6 95.0"/></g><g filter="url(#bs)"><path fill="rgb(252, 127, 127)" fill-opacity="0.35" d="M70.0 32.0C72.0 30.6 80.0 39.0 85.0 42.0C90.0 45.0 95.2 47.3 100.0 50.0C104.8 52.7 109.8 55.3 114.0 58.0C118.2 60.7 122.5 63.3 125.0 66.0C127.5 68.7 128.5 71.0 129.0 74.0C129.5 77.0 129.2 81.3 128.0 84.0C126.8 86.7 124.7 87.8 122.0 90.0C119.3 92.2 115.0 95.3 112.0 97.0C109.0 98.7 105.8 101.4 104.0 100.0C102.2 98.6 102.5 91.5 101.0 88.6C99.5 85.6 97.8 85.3 94.7 82.3C91.6 79.3 85.9 75.8 82.2 70.5C78.5 65.2 74.8 56.9 72.8 50.5C70.8 44.1 68.0 33.4 70.0 32.0Z"/><path fill="rgb(252, 127, 127)" fill-opacity="0.70" d="M50.0 15.5C50.9 15.7 54.8 17.1 57.0 19.0C59.2 20.9 60.8 23.8 63.0 27.0C65.2 30.2 67.2 34.5 70.0 38.0C72.8 41.5 76.3 45.0 80.0 48.0C83.7 51.0 88.0 53.7 92.0 56.0C96.0 58.3 100.3 60.0 104.0 62.0C107.7 64.0 111.7 66.0 114.0 68.0C116.3 70.0 118.3 72.0 118.0 74.0C117.7 76.0 114.3 78.0 112.0 80.0C109.7 82.0 105.8 84.6 104.0 86.0C102.2 87.4 102.5 89.2 101.0 88.6C99.5 88.0 97.2 84.4 94.7 82.3C92.2 80.2 88.3 77.9 86.2 75.9C84.1 73.9 83.7 73.2 82.2 70.5C80.8 67.8 79.1 63.2 77.5 59.9C75.9 56.6 74.8 54.0 72.8 50.5C70.8 47.0 68.1 42.6 65.8 38.7C63.4 34.8 61.1 30.5 58.7 27.0C56.3 23.5 53.1 19.5 51.6 17.6C50.2 15.7 49.1 15.3 50.0 15.5Z"/><path fill="rgb(252, 127, 127)" fill-opacity="0.45" d="M84.0 58.0C85.3 56.0 93.7 58.7 98.0 60.0C102.3 61.3 107.0 64.0 110.0 66.0C113.0 68.0 115.7 69.8 116.0 72.0C116.3 74.2 114.0 76.8 112.0 79.0C110.0 81.2 106.3 84.8 104.0 85.0C101.7 85.2 100.3 82.2 98.0 80.0C95.7 77.8 92.3 75.7 90.0 72.0C87.7 68.3 82.7 60.0 84.0 58.0Z"/></g><g filter="url(#bp)"><path fill="rgb(252, 127, 127)" d="M-2.0 14.0C-1.4 13.9 -0.9 14.1 1.8 14.0C4.5 13.9 9.7 13.4 14.2 13.3C18.7 13.2 23.9 13.2 28.7 13.3C33.5 13.4 39.4 13.3 43.2 14.0C47.0 14.7 49.1 15.4 51.6 17.6C54.2 19.8 56.3 23.5 58.7 27.0C61.1 30.5 63.4 34.8 65.8 38.7C68.1 42.6 70.8 47.0 72.8 50.5C74.8 54.0 75.9 56.6 77.5 59.9C79.1 63.2 80.8 67.8 82.2 70.5C83.7 73.2 84.1 73.9 86.2 75.9C88.3 77.9 92.2 80.2 94.7 82.3C97.2 84.4 101.3 86.5 101.0 88.6C100.7 90.7 94.7 93.4 92.6 95.0C90.5 96.6 89.5 97.3 88.4 98.2C87.3 99.1 86.8 99.9 86.2 100.3C85.6 100.7 86.2 101.0 85.0 100.4C83.8 99.8 81.4 98.5 79.2 96.7C77.0 94.9 74.3 92.2 71.9 89.5C69.5 86.8 66.5 83.5 64.7 80.8C62.8 78.1 62.0 76.0 60.6 73.5C59.2 71.0 58.2 69.2 56.3 65.5C54.4 61.8 51.2 55.8 49.0 51.0C46.8 46.2 45.1 40.0 43.2 36.5C41.3 33.0 39.3 32.0 37.4 30.0C35.5 27.9 34.0 26.1 31.6 24.2C29.2 22.3 25.8 19.8 22.9 18.4C20.0 16.9 17.7 16.1 14.2 15.5C10.7 14.9 4.5 14.8 1.8 14.7C-0.9 14.6 -1.4 14.8 -2.0 14.7C-2.6 14.6 -2.6 14.1 -2.0 14.0Z"/><path stroke="rgb(252, 127, 127)" stroke-opacity="0.45" stroke-width="1.0" d="M104.0 99.0L128.0 84.0"/><path stroke="rgb(252, 127, 127)" stroke-opacity="0.40" stroke-width="0.9" d="M108.0 97.0L128.0 88.0"/><path stroke="rgb(252, 127, 127)" stroke-opacity="0.40" stroke-width="1.0" d="M100.0 97.0L126.0 80.0"/></g></g></g><g stroke="#8a8a8a" stroke-width="1.15" fill="none"><rect x="28.70" y="4.20" width="129.30" height="110.80"/><rect x="158.00" y="4.20" width="129.30" height="110.80"/><rect x="287.35" y="4.20" width="129.30" height="110.80"/><rect x="416.65" y="4.20" width="129.30" height="110.80"/><rect x="28.70" y="114.40" width="129.30" height="110.80"/><rect x="158.00" y="114.40" width="129.30" height="110.80"/><rect x="287.35" y="114.40" width="129.30" height="110.80"/><rect x="416.65" y="114.40" width="129.30" height="110.80"/></g><path stroke="#555" stroke-width="1" fill="none" d="M82.60 4.20v2.5M82.60 115.00v-2.5M136.50 4.20v2.5M136.50 115.00v-2.5M28.70 67.00h2.5M158.00 67.00h-2.5M28.70 19.00h2.5M158.00 19.00h-2.5M211.90 4.20v2.5M211.90 115.00v-2.5M265.80 4.20v2.5M265.80 115.00v-2.5M158.00 67.00h2.5M287.30 67.00h-2.5M158.00 19.00h2.5M287.30 19.00h-2.5M341.25 4.20v2.5M341.25 115.00v-2.5M395.15 4.20v2.5M395.15 115.00v-2.5M287.35 67.00h2.5M416.65 67.00h-2.5M287.35 19.00h2.5M416.65 19.00h-2.5M470.55 4.20v2.5M470.55 115.00v-2.5M524.45 4.20v2.5M524.45 115.00v-2.5M416.65 67.00h2.5M545.95 67.00h-2.5M416.65 19.00h2.5M545.95 19.00h-2.5M82.60 114.40v2.5M82.60 225.20v-2.5M136.50 114.40v2.5M136.50 225.20v-2.5M28.70 177.20h2.5M158.00 177.20h-2.5M28.70 129.20h2.5M158.00 129.20h-2.5M211.90 114.40v2.5M211.90 225.20v-2.5M265.80 114.40v2.5M265.80 225.20v-2.5M158.00 177.20h2.5M287.30 177.20h-2.5M158.00 129.20h2.5M287.30 129.20h-2.5M341.25 114.40v2.5M341.25 225.20v-2.5M395.15 114.40v2.5M395.15 225.20v-2.5M287.35 177.20h2.5M416.65 177.20h-2.5M287.35 129.20h2.5M416.65 129.20h-2.5M470.55 114.40v2.5M470.55 225.20v-2.5M524.45 114.40v2.5M524.45 225.20v-2.5M416.65 177.20h2.5M545.95 177.20h-2.5M416.65 129.20h2.5M545.95 129.20h-2.5"/><g font-size="8.2" fill="#222" stroke="#222" stroke-width="0.12"><text transform="translate(25.8 117.75) scale(1 1.14)" text-anchor="end">0.0</text><text transform="translate(25.8 69.75) scale(1 1.14)" text-anchor="end">0.5</text><text transform="translate(25.8 21.75) scale(1 1.14)" text-anchor="end">1.0</text><text transform="translate(2.6 52.10) scale(1 1.14)" font-style="italic" font-size="8.6">k<tspan font-size="7.4" dy="2.3">d</tspan></text><text transform="translate(25.8 228.25) scale(1 1.14)" text-anchor="end">0.0</text><text transform="translate(25.8 180.25) scale(1 1.14)" text-anchor="end">0.5</text><text transform="translate(25.8 132.25) scale(1 1.14)" text-anchor="end">1.0</text><text transform="translate(2.6 162.60) scale(1 1.14)" font-style="italic" font-size="8.6">k<tspan font-size="7.4" dy="2.3">d</tspan></text><text transform="translate(28.80 235.7) scale(1 1.14)" text-anchor="middle">0.0</text><text transform="translate(82.70 235.7) scale(1 1.14)" text-anchor="middle">0.5</text><text transform="translate(136.60 235.7) scale(1 1.14)" text-anchor="middle">1.0</text><text transform="translate(78.60 249.2) scale(1 1.14)" font-style="italic" font-size="8.6">k<tspan font-size="7.4" dy="1.9">t</tspan></text><text transform="translate(158.10 235.7) scale(1 1.14)" text-anchor="middle">0.0</text><text transform="translate(212.00 235.7) scale(1 1.14)" text-anchor="middle">0.5</text><text transform="translate(265.90 235.7) scale(1 1.14)" text-anchor="middle">1.0</text><text transform="translate(207.90 249.2) scale(1 1.14)" font-style="italic" font-size="8.6">k<tspan font-size="7.4" dy="1.9">t</tspan></text><text transform="translate(287.45 235.7) scale(1 1.14)" text-anchor="middle">0.0</text><text transform="translate(341.35 235.7) scale(1 1.14)" text-anchor="middle">0.5</text><text transform="translate(395.25 235.7) scale(1 1.14)" text-anchor="middle">1.0</text><text transform="translate(337.25 249.2) scale(1 1.14)" font-style="italic" font-size="8.6">k<tspan font-size="7.4" dy="1.9">t</tspan></text><text transform="translate(416.75 235.7) scale(1 1.14)" text-anchor="middle">0.0</text><text transform="translate(470.65 235.7) scale(1 1.14)" text-anchor="middle">0.5</text><text transform="translate(524.55 235.7) scale(1 1.14)" text-anchor="middle">1.0</text><text transform="translate(466.55 249.2) scale(1 1.14)" font-style="italic" font-size="8.6">k<tspan font-size="7.4" dy="1.9">t</tspan></text></g><text x="34.90" y="107.00" font-weight="bold" fill="#000" stroke="#000" stroke-width="0.3" font-size="10.7">(a)</text><text transform="translate(49.48 107.50) scale(1 1.06)" font-weight="bold" fill="#000" stroke="#000" stroke-width="0.2" font-size="9.4">Measured</text><text x="164.25" y="107.00" font-weight="bold" fill="#000" stroke="#000" stroke-width="0.3" font-size="10.7">(b)</text><text transform="translate(179.41 107.50) scale(1 1.06)" font-weight="bold" fill="#000" stroke="#000" stroke-width="0.2" font-size="9.4">PB</text><text x="293.60" y="107.00" font-weight="bold" fill="#000" stroke="#000" stroke-width="0.3" font-size="10.7">(c)</text><text transform="translate(308.18 107.50) scale(1 1.06)" font-weight="bold" fill="#000" stroke="#000" stroke-width="0.2" font-size="9.4">E2</text><text x="422.95" y="107.00" font-weight="bold" fill="#000" stroke="#000" stroke-width="0.3" font-size="10.7">(d)</text><text transform="translate(438.11 107.50) scale(1 1.06)" font-weight="bold" fill="#000" stroke="#000" stroke-width="0.2" font-size="9.4">S1</text><text x="34.90" y="217.50" font-weight="bold" fill="#000" stroke="#000" stroke-width="0.3" font-size="10.7">(e)</text><text transform="translate(49.48 218.00) scale(1 1.06)" font-weight="bold" fill="#000" stroke="#000" stroke-width="0.2" font-size="9.4">S3</text><text x="164.25" y="217.50" font-weight="bold" fill="#000" stroke="#000" stroke-width="0.3" font-size="10.7">(f)</text><text transform="translate(176.44 218.00) scale(1 1.06)" font-weight="bold" fill="#000" stroke="#000" stroke-width="0.2" font-size="9.4">Y4</text><text x="293.60" y="217.50" font-weight="bold" fill="#000" stroke="#000" stroke-width="0.3" font-size="10.7">(g)</text><text transform="translate(308.76 218.00) scale(1 1.06)" font-weight="bold" fill="#000" stroke="#000" stroke-width="0.2" font-size="9.4">M1</text><text x="422.95" y="217.50" font-weight="bold" fill="#000" stroke="#000" stroke-width="0.3" font-size="10.7">(h)</text><text transform="translate(438.11 218.00) scale(1 1.06)" font-weight="bold" fill="#000" stroke="#000" stroke-width="0.2" font-size="9.4">M2</text></svg></body></html>
